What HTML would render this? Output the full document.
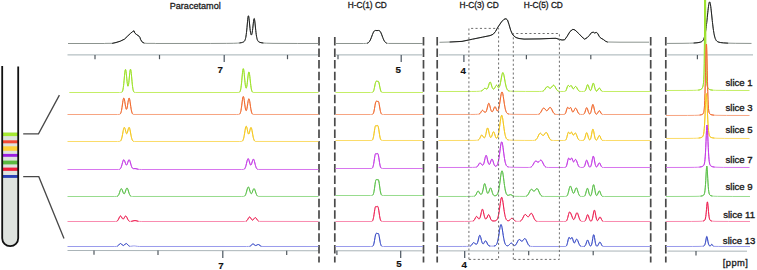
<!DOCTYPE html>
<html><head><meta charset="utf-8"><title>NMR slices</title>
<style>
html,body{margin:0;padding:0;background:#fff;}
body{width:757px;height:270px;overflow:hidden;font-family:"Liberation Sans",sans-serif;}
svg{display:block;}
</style></head>
<body>
<svg width="757" height="270" viewBox="0 0 757 270">
<rect width="757" height="270" fill="#fff"/>
<path d="M2.2 132.5 L2.2 238.2 A8 8 0 0 0 18.2 238.2 L18.2 132.5 Z" fill="#dfe3df"/>
<rect x="2.2" y="132.6" width="16" height="3.5" fill="#a4e830"/>
<rect x="2.2" y="140.3" width="16" height="3.0" fill="#f24a34"/>
<rect x="2.2" y="146.3" width="16" height="4.5" fill="#ffd23a"/>
<rect x="2.2" y="153.9" width="16" height="2.9" fill="#9a1ee0"/>
<rect x="2.2" y="160.6" width="16" height="3.8" fill="#5cb840"/>
<rect x="2.2" y="167.6" width="16" height="3.3" fill="#f0203c"/>
<rect x="2.2" y="175.0" width="16" height="2.9" fill="#2a40b4"/>
<path d="M2.2 65.9 L2.2 238.2 A8 8 0 0 0 18.2 238.2 L18.2 66.6" fill="none" stroke="#111" stroke-width="1.8"/>
<path d="M23.2 133.8 L38.5 133.8 L59.4 95.1" fill="none" stroke="#484848" stroke-width="1.3"/>
<path d="M23.2 176.7 L38.8 176.7 L64.0 238.4" fill="none" stroke="#484848" stroke-width="1.3"/>
<line x1="67.5" y1="54.9" x2="318.0" y2="54.9" stroke="#a4b0b4" stroke-width="1"/>
<line x1="336.0" y1="54.9" x2="422.0" y2="54.9" stroke="#a4b0b4" stroke-width="1"/>
<line x1="439.0" y1="54.9" x2="650.0" y2="54.9" stroke="#a4b0b4" stroke-width="1"/>
<line x1="667.5" y1="54.9" x2="753.0" y2="54.9" stroke="#a4b0b4" stroke-width="1"/>
<line x1="67.5" y1="250.50" x2="318.0" y2="250.75" stroke="#aab4b8" stroke-width="1"/>
<line x1="336.0" y1="250.77" x2="422.0" y2="250.85" stroke="#aab4b8" stroke-width="1"/>
<line x1="439.0" y1="250.87" x2="650.0" y2="251.08" stroke="#aab4b8" stroke-width="1"/>
<line x1="667.5" y1="251.10" x2="747.0" y2="251.18" stroke="#aab4b8" stroke-width="1"/>
<line x1="95.0" y1="54.9" x2="95.0" y2="59.2" stroke="#50585e" stroke-width="1.2"/>
<line x1="159.5" y1="54.9" x2="159.5" y2="59.2" stroke="#50585e" stroke-width="1.2"/>
<line x1="224.2" y1="54.9" x2="224.2" y2="62.1" stroke="#4a5560" stroke-width="1.2"/>
<line x1="287.5" y1="54.9" x2="287.5" y2="59.2" stroke="#50585e" stroke-width="1.2"/>
<line x1="338.0" y1="54.9" x2="338.0" y2="59.2" stroke="#50585e" stroke-width="1.2"/>
<line x1="401.2" y1="54.9" x2="401.2" y2="62.1" stroke="#4a5560" stroke-width="1.2"/>
<line x1="463.9" y1="54.9" x2="463.9" y2="62.1" stroke="#4a5560" stroke-width="1.2"/>
<line x1="526.4" y1="54.9" x2="526.4" y2="59.2" stroke="#50585e" stroke-width="1.2"/>
<line x1="590.8" y1="54.9" x2="590.8" y2="59.2" stroke="#50585e" stroke-width="1.2"/>
<line x1="697.4" y1="54.9" x2="697.4" y2="59.2" stroke="#50585e" stroke-width="1.2"/>
<line x1="94.0" y1="250.5" x2="94.0" y2="254.8" stroke="#50585e" stroke-width="1.2"/>
<line x1="158.0" y1="250.6" x2="158.0" y2="254.9" stroke="#50585e" stroke-width="1.2"/>
<line x1="222.8" y1="250.7" x2="222.8" y2="257.9" stroke="#4a5560" stroke-width="1.2"/>
<line x1="286.7" y1="250.7" x2="286.7" y2="255.0" stroke="#50585e" stroke-width="1.2"/>
<line x1="336.9" y1="250.8" x2="336.9" y2="255.1" stroke="#50585e" stroke-width="1.2"/>
<line x1="400.7" y1="250.8" x2="400.7" y2="258.0" stroke="#4a5560" stroke-width="1.2"/>
<line x1="464.7" y1="250.9" x2="464.7" y2="258.1" stroke="#4a5560" stroke-width="1.2"/>
<line x1="528.7" y1="251.0" x2="528.7" y2="255.3" stroke="#50585e" stroke-width="1.2"/>
<line x1="593.2" y1="251.0" x2="593.2" y2="255.3" stroke="#50585e" stroke-width="1.2"/>
<line x1="696.0" y1="251.1" x2="696.0" y2="255.4" stroke="#50585e" stroke-width="1.2"/>
<line x1="319.0" y1="37" x2="319.0" y2="262.5" stroke="#4a4a4a" stroke-width="1.7" stroke-dasharray="8.5 3.05"/>
<line x1="334.8" y1="37" x2="334.8" y2="262.5" stroke="#4a4a4a" stroke-width="1.7" stroke-dasharray="8.5 3.05"/>
<line x1="423.5" y1="37" x2="423.5" y2="262.5" stroke="#4a4a4a" stroke-width="1.7" stroke-dasharray="8.5 3.05"/>
<line x1="437.2" y1="37" x2="437.2" y2="262.5" stroke="#4a4a4a" stroke-width="1.7" stroke-dasharray="8.5 3.05"/>
<line x1="650.7" y1="37" x2="650.7" y2="262.5" stroke="#4a4a4a" stroke-width="1.7" stroke-dasharray="8.5 3.05"/>
<line x1="665.8" y1="37" x2="665.8" y2="262.5" stroke="#4a4a4a" stroke-width="1.7" stroke-dasharray="8.5 3.05"/>
<path d="M68.00 43.50 L104.75 43.50 L105.00 43.40 L112.50 43.30 L116.00 42.52 L120.25 41.21 L124.50 39.14 L127.75 35.96 L130.50 33.39 L132.50 31.68 L134.00 30.79 L134.75 32.95 L135.00 33.26 L136.75 34.67 L139.00 36.19 L139.75 36.94 L140.00 37.65 L140.50 39.29 L142.00 41.83 L142.25 42.07 L144.00 42.99 L144.25 43.10 L147.00 43.39 L155.00 43.39 L155.25 43.49 L210.75 43.46 L226.75 43.39 L233.75 43.27 L237.50 43.11 L239.75 42.91 L241.25 42.68 L242.50 42.36 L243.25 42.05 L243.75 41.76 L244.25 41.33 L244.50 41.03 L244.75 40.63 L245.00 40.12 L245.25 39.45 L245.50 38.59 L245.75 37.48 L246.00 36.09 L246.25 34.39 L246.50 32.36 L246.75 30.02 L247.00 27.41 L247.50 21.83 L247.75 19.26 L248.00 17.21 L248.25 15.99 L248.50 15.81 L248.75 16.70 L249.00 18.46 L249.25 20.80 L249.75 26.00 L250.00 28.43 L250.25 30.55 L250.50 32.30 L250.75 33.62 L251.00 34.50 L251.25 34.92 L251.50 34.89 L251.75 34.41 L252.00 33.49 L252.25 32.16 L252.50 30.46 L252.75 28.44 L253.25 23.89 L253.50 21.70 L253.75 19.91 L254.00 18.80 L254.25 18.58 L254.50 19.33 L254.75 20.91 L255.00 23.06 L255.50 28.03 L255.75 30.44 L256.00 32.64 L256.25 34.57 L256.50 36.22 L256.75 37.57 L257.00 38.66 L257.25 39.52 L257.50 40.18 L257.75 40.70 L258.00 41.09 L258.50 41.63 L259.00 41.98 L259.75 42.31 L261.00 42.66 L263.00 42.96 L266.25 43.18 L273.00 43.36 L297.75 43.47 L318.50 43.48 M335.50 43.49 L363.50 43.49 L365.75 43.44 L366.75 43.33 L367.50 43.12 L368.25 42.74 L368.75 42.34 L369.25 41.78 L369.75 41.04 L370.25 40.12 L370.75 39.02 L371.25 37.76 L372.50 34.38 L373.00 33.15 L373.50 32.12 L374.00 31.33 L374.50 30.81 L375.00 30.54 L375.50 30.46 L377.00 30.58 L378.50 30.46 L379.00 30.51 L379.50 30.74 L380.00 31.21 L380.50 31.94 L381.00 32.93 L381.50 34.13 L382.75 37.50 L383.25 38.78 L383.75 39.92 L384.25 40.88 L384.75 41.65 L385.25 42.24 L385.75 42.67 L386.50 43.09 L387.25 43.31 L388.50 43.45 L423.00 43.50 M439.50 42.30 L450.00 42.00 L462.00 41.40 L472.40 39.20 L482.70 37.10 L490.00 35.60 L493.10 34.30 L495.50 31.50 L498.00 27.00 L501.40 22.00 L504.00 19.30 L506.00 18.70 L507.50 20.00 L509.00 24.50 L510.70 30.30 L512.80 35.00 L515.90 37.50 L519.00 38.50 L524.00 39.10 L540.00 38.90 L552.00 38.40 L556.00 38.30 L559.40 39.40 L562.00 40.00 L564.60 39.80 L567.00 36.50 L570.00 31.50 L572.90 29.30 L575.00 30.00 L578.90 33.70 L582.00 37.00 L584.60 39.20 L587.00 37.80 L589.20 35.60 L591.50 32.60 L593.30 32.20 L594.60 33.00 L596.30 32.40 L597.80 33.60 L599.30 36.60 L601.00 38.20 L603.50 39.60 L605.50 41.20 L607.40 42.00 L620.00 42.20 L649.00 42.20 M667.00 43.43 L682.00 43.34 L689.50 43.20 L694.00 43.01 L697.00 42.77 L699.00 42.48 L700.25 42.20 L701.25 41.85 L702.00 41.42 L702.50 40.99 L703.00 40.40 L703.50 39.56 L703.75 39.02 L704.00 38.38 L704.25 37.64 L704.50 36.77 L704.75 35.77 L705.00 34.63 L705.25 33.34 L705.50 31.88 L705.75 30.26 L706.00 28.48 L706.25 26.54 L706.50 24.46 L706.75 22.25 L707.25 17.56 L707.75 12.76 L708.00 10.44 L708.25 8.26 L708.50 6.30 L708.75 4.61 L709.00 3.29 L709.25 2.38 L709.50 1.94 L709.75 1.99 L710.00 2.53 L710.25 3.52 L710.50 4.93 L710.75 6.67 L711.00 8.69 L711.25 10.90 L712.25 20.41 L712.50 22.70 L712.75 24.88 L713.00 26.94 L713.25 28.85 L713.50 30.60 L713.75 32.18 L714.00 33.61 L714.25 34.87 L714.50 35.99 L714.75 36.96 L715.00 37.80 L715.25 38.52 L715.50 39.13 L715.75 39.65 L716.25 40.47 L716.75 41.04 L717.25 41.45 L718.00 41.87 L719.00 42.22 L720.75 42.58 L723.50 42.89 L727.75 43.14 L735.75 43.32 L751.50 43.43" stroke="#8c948f" stroke-width="1.0" fill="none" stroke-linejoin="round"/>
<path d="M112.50 43.30 L116.00 42.52 L120.25 41.21 L124.50 39.14 L127.75 35.96 L130.50 33.39 L132.50 31.68 L134.00 30.79 L134.75 32.95 L135.00 33.26 L136.75 34.67 L139.00 36.19 L139.75 36.94 L140.00 37.65 L140.50 39.29 L142.00 41.83 L142.25 42.07 L144.00 42.99 M239.75 42.91 L241.25 42.68 L242.50 42.36 L243.25 42.05 L243.75 41.76 L244.25 41.33 L244.50 41.03 L244.75 40.63 L245.00 40.12 L245.25 39.45 L245.50 38.59 L245.75 37.48 L246.00 36.09 L246.25 34.39 L246.50 32.36 L246.75 30.02 L247.00 27.41 L247.50 21.83 L247.75 19.26 L248.00 17.21 L248.25 15.99 L248.50 15.81 L248.75 16.70 L249.00 18.46 L249.25 20.80 L249.75 26.00 L250.00 28.43 L250.25 30.55 L250.50 32.30 L250.75 33.62 L251.00 34.50 L251.25 34.92 L251.50 34.89 L251.75 34.41 L252.00 33.49 L252.25 32.16 L252.50 30.46 L252.75 28.44 L253.25 23.89 L253.50 21.70 L253.75 19.91 L254.00 18.80 L254.25 18.58 L254.50 19.33 L254.75 20.91 L255.00 23.06 L255.50 28.03 L255.75 30.44 L256.00 32.64 L256.25 34.57 L256.50 36.22 L256.75 37.57 L257.00 38.66 L257.25 39.52 L257.50 40.18 L257.75 40.70 L258.00 41.09 L258.50 41.63 L259.00 41.98 L259.75 42.31 L261.00 42.66 L263.00 42.96 M367.50 43.12 L368.25 42.74 L368.75 42.34 L369.25 41.78 L369.75 41.04 L370.25 40.12 L370.75 39.02 L371.25 37.76 L372.50 34.38 L373.00 33.15 L373.50 32.12 L374.00 31.33 L374.50 30.81 L375.00 30.54 L375.50 30.46 L377.00 30.58 L378.50 30.46 L379.00 30.51 L379.50 30.74 L380.00 31.21 L380.50 31.94 L381.00 32.93 L381.50 34.13 L382.75 37.50 L383.25 38.78 L383.75 39.92 L384.25 40.88 L384.75 41.65 L385.25 42.24 L385.75 42.67 L386.50 43.09 M450.00 42.00 L462.00 41.40 L472.40 39.20 L482.70 37.10 L490.00 35.60 L493.10 34.30 L495.50 31.50 L498.00 27.00 L501.40 22.00 L504.00 19.30 L506.00 18.70 L507.50 20.00 L509.00 24.50 L510.70 30.30 L512.80 35.00 L515.90 37.50 L519.00 38.50 L524.00 39.10 L540.00 38.90 L552.00 38.40 L556.00 38.30 L559.40 39.40 L562.00 40.00 L564.60 39.80 L567.00 36.50 L570.00 31.50 L572.90 29.30 L575.00 30.00 L578.90 33.70 L582.00 37.00 L584.60 39.20 L587.00 37.80 L589.20 35.60 L591.50 32.60 L593.30 32.20 L594.60 33.00 L596.30 32.40 L597.80 33.60 L599.30 36.60 L601.00 38.20 L603.50 39.60 L605.50 41.20 L607.40 42.00 M694.00 43.01 L697.00 42.77 L699.00 42.48 L700.25 42.20 L701.25 41.85 L702.00 41.42 L702.50 40.99 L703.00 40.40 L703.50 39.56 L703.75 39.02 L704.00 38.38 L704.25 37.64 L704.50 36.77 L704.75 35.77 L705.00 34.63 L705.25 33.34 L705.50 31.88 L705.75 30.26 L706.00 28.48 L706.25 26.54 L706.50 24.46 L706.75 22.25 L707.25 17.56 L707.75 12.76 L708.00 10.44 L708.25 8.26 L708.50 6.30 L708.75 4.61 L709.00 3.29 L709.25 2.38 L709.50 1.94 L709.75 1.99 L710.00 2.53 L710.25 3.52 L710.50 4.93 L710.75 6.67 L711.00 8.69 L711.25 10.90 L712.25 20.41 L712.50 22.70 L712.75 24.88 L713.00 26.94 L713.25 28.85 L713.50 30.60 L713.75 32.18 L714.00 33.61 L714.25 34.87 L714.50 35.99 L714.75 36.96 L715.00 37.80 L715.25 38.52 L715.50 39.13 L715.75 39.65 L716.25 40.47 L716.75 41.04 L717.25 41.45 L718.00 41.87 L719.00 42.22 L720.75 42.58 L723.50 42.89 L727.75 43.14" stroke="#222222" stroke-width="1.0" fill="none" stroke-linejoin="round" stroke-linecap="round"/>
<path d="M69.30 92.50 L119.55 92.50 L120.80 92.48 L121.30 92.42 L121.80 92.21 L122.05 91.99 L122.30 91.63 L122.55 91.08 L122.80 90.27 L123.05 89.13 L123.30 87.61 L123.55 85.69 L123.80 83.38 L124.05 80.76 L124.55 75.27 L124.80 72.84 L125.05 70.94 L125.30 69.79 L125.55 69.51 L125.80 70.13 L126.05 71.58 L126.30 73.68 L126.55 76.18 L126.80 78.82 L127.05 81.32 L127.30 83.47 L127.55 85.07 L127.80 86.02 L128.05 86.23 L128.30 85.70 L128.55 84.46 L128.80 82.59 L129.05 80.25 L129.55 75.00 L129.80 72.60 L130.05 70.72 L130.30 69.58 L130.55 69.31 L130.80 69.96 L131.05 71.44 L131.30 73.60 L131.55 76.20 L132.05 81.74 L132.30 84.27 L132.55 86.45 L132.80 88.23 L133.05 89.60 L133.30 90.61 L133.55 91.32 L133.80 91.79 L134.05 92.09 L134.55 92.38 L135.30 92.49 L237.05 92.50 L238.55 92.47 L239.05 92.39 L239.55 92.13 L239.80 91.86 L240.05 91.45 L240.30 90.84 L240.55 89.96 L240.80 88.75 L241.05 87.18 L241.30 85.21 L241.55 82.88 L241.80 80.27 L242.30 74.79 L242.55 72.35 L242.80 70.40 L243.05 69.13 L243.30 68.70 L243.55 69.13 L243.80 70.39 L244.05 72.33 L244.30 74.76 L244.80 80.13 L245.05 82.63 L245.30 84.77 L245.55 86.44 L245.80 87.56 L246.05 88.11 L246.30 88.07 L246.55 87.45 L246.80 86.30 L247.05 84.68 L247.30 82.68 L247.80 78.11 L248.05 75.91 L248.30 74.06 L248.55 72.72 L248.80 72.06 L249.05 72.13 L249.30 72.95 L249.55 74.41 L249.80 76.37 L250.05 78.64 L250.55 83.34 L250.80 85.45 L251.05 87.28 L251.30 88.77 L251.55 89.93 L251.80 90.80 L252.05 91.41 L252.30 91.83 L252.55 92.10 L253.05 92.37 L253.80 92.48 L318.55 92.50 M335.50 92.50 L370.50 92.50 L371.75 92.47 L372.25 92.40 L372.75 92.18 L373.00 91.96 L373.25 91.62 L373.50 91.14 L373.75 90.49 L374.00 89.63 L374.25 88.59 L374.50 87.40 L375.00 84.81 L375.25 83.61 L375.50 82.60 L375.75 81.85 L376.00 81.39 L376.25 81.19 L376.50 81.18 L377.00 81.35 L377.50 81.32 L378.00 81.17 L378.25 81.24 L378.50 81.54 L378.75 82.12 L379.00 82.97 L379.25 84.07 L380.00 87.89 L380.25 89.03 L380.50 90.00 L380.75 90.77 L381.00 91.36 L381.25 91.77 L381.50 92.06 L382.00 92.36 L382.75 92.48 L423.00 92.50 M438.50 91.50 L471.75 91.48 L476.50 91.42 L479.25 91.28 L480.75 91.09 L481.50 90.91 L482.00 90.69 L482.50 90.35 L483.25 89.59 L484.00 88.77 L484.50 88.40 L485.00 88.30 L485.50 88.46 L486.25 88.87 L486.75 88.99 L487.00 88.93 L487.25 88.76 L487.50 88.48 L487.75 88.06 L488.00 87.50 L488.25 86.81 L488.75 85.15 L489.25 83.45 L489.50 82.76 L489.75 82.26 L490.00 82.01 L490.25 82.03 L490.50 82.33 L490.75 82.86 L491.00 83.58 L491.75 86.15 L492.00 86.93 L492.25 87.61 L492.50 88.16 L492.75 88.58 L493.00 88.88 L493.25 89.06 L493.50 89.12 L493.75 89.09 L494.00 88.94 L494.25 88.70 L494.50 88.36 L495.00 87.45 L495.50 86.41 L495.75 85.94 L496.00 85.57 L496.25 85.33 L496.50 85.25 L496.75 85.33 L497.00 85.57 L497.50 86.35 L498.00 87.19 L498.25 87.50 L498.50 87.67 L498.75 87.68 L499.00 87.50 L499.25 87.14 L499.50 86.58 L499.75 85.84 L500.00 84.92 L500.25 83.84 L500.50 82.63 L501.00 79.93 L501.50 77.14 L501.75 75.84 L502.00 74.68 L502.25 73.73 L502.50 73.05 L502.75 72.68 L503.00 72.66 L503.25 72.98 L503.50 73.62 L503.75 74.54 L504.00 75.68 L504.25 76.98 L505.00 81.24 L505.25 82.62 L505.50 83.91 L505.75 85.09 L506.00 86.15 L506.25 87.08 L506.50 87.88 L506.75 88.56 L507.00 89.12 L507.25 89.57 L507.75 90.23 L508.25 90.63 L509.00 90.96 L510.25 91.17 L513.75 91.34 L525.50 91.46 L539.75 91.48 L541.50 91.42 L542.25 91.31 L543.00 91.06 L543.50 90.77 L544.00 90.36 L544.50 89.81 L546.00 87.73 L546.50 87.14 L547.00 86.76 L547.50 86.64 L548.00 86.78 L548.50 87.12 L549.25 87.78 L549.75 88.11 L550.25 88.23 L550.75 88.06 L551.25 87.63 L552.50 85.98 L553.00 85.47 L553.25 85.32 L553.50 85.25 L553.75 85.28 L554.00 85.39 L554.50 85.88 L555.00 86.64 L556.25 88.91 L556.75 89.70 L557.25 90.32 L557.75 90.77 L558.25 91.08 L559.00 91.33 L560.25 91.47 L563.75 91.49 L564.50 91.45 L565.00 91.34 L565.50 91.04 L565.75 90.76 L566.00 90.38 L566.25 89.88 L566.50 89.25 L567.25 86.98 L567.50 86.30 L567.75 85.78 L568.00 85.47 L568.25 85.38 L568.50 85.50 L569.25 86.35 L569.50 86.51 L569.75 86.52 L570.00 86.37 L570.50 85.82 L570.75 85.59 L571.00 85.49 L571.25 85.58 L571.50 85.87 L571.75 86.32 L572.50 88.01 L572.75 88.43 L573.00 88.70 L573.25 88.80 L573.50 88.74 L573.75 88.53 L574.25 87.86 L574.75 87.12 L575.00 86.82 L575.25 86.60 L575.50 86.50 L575.75 86.52 L576.00 86.65 L576.25 86.89 L576.75 87.63 L577.75 89.47 L578.25 90.23 L578.75 90.78 L579.25 91.12 L580.00 91.38 L581.25 91.49 L583.50 91.48 L584.25 91.39 L584.75 91.16 L585.00 90.95 L585.25 90.65 L585.50 90.23 L585.75 89.68 L586.00 89.00 L586.75 86.53 L587.00 85.76 L587.25 85.16 L587.50 84.79 L587.75 84.70 L588.00 84.90 L588.25 85.37 L588.50 86.05 L589.25 88.52 L589.50 89.23 L589.75 89.81 L590.00 90.22 L590.25 90.46 L590.50 90.50 L590.75 90.36 L591.00 90.02 L591.25 89.48 L591.50 88.76 L591.75 87.87 L592.50 84.85 L592.75 84.02 L593.00 83.45 L593.25 83.20 L593.50 83.31 L593.75 83.76 L594.00 84.49 L594.25 85.43 L594.75 87.49 L595.00 88.45 L595.25 89.27 L595.50 89.93 L595.75 90.42 L596.00 90.76 L596.25 90.96 L596.50 91.04 L596.75 91.01 L597.00 90.88 L597.25 90.67 L597.75 90.01 L598.50 88.77 L598.75 88.43 L599.00 88.20 L599.25 88.10 L599.50 88.14 L599.75 88.33 L600.00 88.63 L601.00 90.25 L601.50 90.86 L602.00 91.23 L602.50 91.40 L603.75 91.49 L650.50 91.49 M666.00 90.49 L686.25 90.44 L693.25 90.36 L696.50 90.23 L698.50 90.04 L699.75 89.80 L700.50 89.55 L701.25 89.15 L701.75 88.72 L702.00 88.42 L702.25 88.04 L702.50 87.55 L702.75 86.88 L703.00 85.97 L703.25 84.67 L703.50 82.72 L703.75 79.59 L704.00 74.11 L704.25 63.20 L704.50 36.45 L704.75 -50.00 L705.00 -50.00 L705.25 -50.00 L705.50 -27.15 L705.75 44.26 L706.00 66.11 L706.25 75.49 L706.50 80.35 L706.75 83.18 L707.00 84.97 L707.25 86.18 L707.50 87.03 L707.75 87.66 L708.00 88.12 L708.50 88.77 L709.00 89.19 L709.75 89.58 L710.75 89.87 L712.50 90.13 L715.75 90.32 L725.25 90.45 L749.50 90.49" stroke="#c4ee66" stroke-width="1.0" fill="none" stroke-linejoin="round"/>
<path d="M122.05 91.99 L122.30 91.63 L122.55 91.08 L122.80 90.27 L123.05 89.13 L123.30 87.61 L123.55 85.69 L123.80 83.38 L124.05 80.76 L124.55 75.27 L124.80 72.84 L125.05 70.94 L125.30 69.79 L125.55 69.51 L125.80 70.13 L126.05 71.58 L126.30 73.68 L126.55 76.18 L126.80 78.82 L127.05 81.32 L127.30 83.47 L127.55 85.07 L127.80 86.02 L128.05 86.23 L128.30 85.70 L128.55 84.46 L128.80 82.59 L129.05 80.25 L129.55 75.00 L129.80 72.60 L130.05 70.72 L130.30 69.58 L130.55 69.31 L130.80 69.96 L131.05 71.44 L131.30 73.60 L131.55 76.20 L132.05 81.74 L132.30 84.27 L132.55 86.45 L132.80 88.23 L133.05 89.60 L133.30 90.61 L133.55 91.32 L133.80 91.79 L134.05 92.09 M239.55 92.13 L239.80 91.86 L240.05 91.45 L240.30 90.84 L240.55 89.96 L240.80 88.75 L241.05 87.18 L241.30 85.21 L241.55 82.88 L241.80 80.27 L242.30 74.79 L242.55 72.35 L242.80 70.40 L243.05 69.13 L243.30 68.70 L243.55 69.13 L243.80 70.39 L244.05 72.33 L244.30 74.76 L244.80 80.13 L245.05 82.63 L245.30 84.77 L245.55 86.44 L245.80 87.56 L246.05 88.11 L246.30 88.07 L246.55 87.45 L246.80 86.30 L247.05 84.68 L247.30 82.68 L247.80 78.11 L248.05 75.91 L248.30 74.06 L248.55 72.72 L248.80 72.06 L249.05 72.13 L249.30 72.95 L249.55 74.41 L249.80 76.37 L250.05 78.64 L250.55 83.34 L250.80 85.45 L251.05 87.28 L251.30 88.77 L251.55 89.93 L251.80 90.80 L252.05 91.41 L252.30 91.83 L252.55 92.10 M373.00 91.96 L373.25 91.62 L373.50 91.14 L373.75 90.49 L374.00 89.63 L374.25 88.59 L374.50 87.40 L375.00 84.81 L375.25 83.61 L375.50 82.60 L375.75 81.85 L376.00 81.39 L376.25 81.19 L376.50 81.18 L377.00 81.35 L377.50 81.32 L378.00 81.17 L378.25 81.24 L378.50 81.54 L378.75 82.12 L379.00 82.97 L379.25 84.07 L380.00 87.89 L380.25 89.03 L380.50 90.00 L380.75 90.77 L381.00 91.36 L381.25 91.77 L381.50 92.06 M481.50 90.91 L482.00 90.69 L482.50 90.35 L483.25 89.59 L484.00 88.77 L484.50 88.40 L485.00 88.30 L485.50 88.46 L486.25 88.87 L486.75 88.99 L487.00 88.93 L487.25 88.76 L487.50 88.48 L487.75 88.06 L488.00 87.50 L488.25 86.81 L488.75 85.15 L489.25 83.45 L489.50 82.76 L489.75 82.26 L490.00 82.01 L490.25 82.03 L490.50 82.33 L490.75 82.86 L491.00 83.58 L491.75 86.15 L492.00 86.93 L492.25 87.61 L492.50 88.16 L492.75 88.58 L493.00 88.88 L493.25 89.06 L493.50 89.12 L493.75 89.09 L494.00 88.94 L494.25 88.70 L494.50 88.36 L495.00 87.45 L495.50 86.41 L495.75 85.94 L496.00 85.57 L496.25 85.33 L496.50 85.25 L496.75 85.33 L497.00 85.57 L497.50 86.35 L498.00 87.19 L498.25 87.50 L498.50 87.67 L498.75 87.68 L499.00 87.50 L499.25 87.14 L499.50 86.58 L499.75 85.84 L500.00 84.92 L500.25 83.84 L500.50 82.63 L501.00 79.93 L501.50 77.14 L501.75 75.84 L502.00 74.68 L502.25 73.73 L502.50 73.05 L502.75 72.68 L503.00 72.66 L503.25 72.98 L503.50 73.62 L503.75 74.54 L504.00 75.68 L504.25 76.98 L505.00 81.24 L505.25 82.62 L505.50 83.91 L505.75 85.09 L506.00 86.15 L506.25 87.08 L506.50 87.88 L506.75 88.56 L507.00 89.12 L507.25 89.57 L507.75 90.23 L508.25 90.63 L509.00 90.96 M543.00 91.06 L543.50 90.77 L544.00 90.36 L544.50 89.81 L546.00 87.73 L546.50 87.14 L547.00 86.76 L547.50 86.64 L548.00 86.78 L548.50 87.12 L549.25 87.78 L549.75 88.11 L550.25 88.23 L550.75 88.06 L551.25 87.63 L552.50 85.98 L553.00 85.47 L553.25 85.32 L553.50 85.25 L553.75 85.28 L554.00 85.39 L554.50 85.88 L555.00 86.64 L556.25 88.91 L556.75 89.70 L557.25 90.32 L557.75 90.77 L558.25 91.08 M565.50 91.04 L565.75 90.76 L566.00 90.38 L566.25 89.88 L566.50 89.25 L567.25 86.98 L567.50 86.30 L567.75 85.78 L568.00 85.47 L568.25 85.38 L568.50 85.50 L569.25 86.35 L569.50 86.51 L569.75 86.52 L570.00 86.37 L570.50 85.82 L570.75 85.59 L571.00 85.49 L571.25 85.58 L571.50 85.87 L571.75 86.32 L572.50 88.01 L572.75 88.43 L573.00 88.70 L573.25 88.80 L573.50 88.74 L573.75 88.53 L574.25 87.86 L574.75 87.12 L575.00 86.82 L575.25 86.60 L575.50 86.50 L575.75 86.52 L576.00 86.65 L576.25 86.89 L576.75 87.63 L577.75 89.47 L578.25 90.23 L578.75 90.78 L579.25 91.12 M585.00 90.95 L585.25 90.65 L585.50 90.23 L585.75 89.68 L586.00 89.00 L586.75 86.53 L587.00 85.76 L587.25 85.16 L587.50 84.79 L587.75 84.70 L588.00 84.90 L588.25 85.37 L588.50 86.05 L589.25 88.52 L589.50 89.23 L589.75 89.81 L590.00 90.22 L590.25 90.46 L590.50 90.50 L590.75 90.36 L591.00 90.02 L591.25 89.48 L591.50 88.76 L591.75 87.87 L592.50 84.85 L592.75 84.02 L593.00 83.45 L593.25 83.20 L593.50 83.31 L593.75 83.76 L594.00 84.49 L594.25 85.43 L594.75 87.49 L595.00 88.45 L595.25 89.27 L595.50 89.93 L595.75 90.42 L596.00 90.76 L596.25 90.96 M596.75 91.01 L597.00 90.88 L597.25 90.67 L597.75 90.01 L598.50 88.77 L598.75 88.43 L599.00 88.20 L599.25 88.10 L599.50 88.14 L599.75 88.33 L600.00 88.63 L601.00 90.25 L601.50 90.86 L602.00 91.23 M698.50 90.04 L699.75 89.80 L700.50 89.55 L701.25 89.15 L701.75 88.72 L702.00 88.42 L702.25 88.04 L702.50 87.55 L702.75 86.88 L703.00 85.97 L703.25 84.67 L703.50 82.72 L703.75 79.59 L704.00 74.11 L704.25 63.20 L704.50 36.45 L704.75 -50.00 L705.00 -50.00 L705.25 -50.00 L705.50 -27.15 L705.75 44.26 L706.00 66.11 L706.25 75.49 L706.50 80.35 L706.75 83.18 L707.00 84.97 L707.25 86.18 L707.50 87.03 L707.75 87.66 L708.00 88.12 L708.50 88.77 L709.00 89.19 L709.75 89.58 L710.75 89.87 L712.50 90.13" stroke="#9be22a" stroke-width="1.0" fill="none" stroke-linejoin="round" stroke-linecap="round"/>
<path d="M67.50 114.50 L117.50 114.50 L119.00 114.46 L119.50 114.37 L120.00 114.13 L120.25 113.90 L120.50 113.56 L120.75 113.07 L121.00 112.41 L121.25 111.53 L121.50 110.41 L121.75 109.06 L122.00 107.49 L122.75 102.22 L123.00 100.64 L123.25 99.35 L123.50 98.48 L123.75 98.10 L124.00 98.25 L124.25 98.91 L124.50 100.02 L124.75 101.45 L125.25 104.72 L125.50 106.27 L125.75 107.60 L126.00 108.58 L126.25 109.16 L126.50 109.30 L126.75 108.98 L127.00 108.23 L127.25 107.10 L127.50 105.67 L128.00 102.40 L128.25 100.84 L128.50 99.53 L128.75 98.59 L129.00 98.13 L129.25 98.19 L129.50 98.77 L129.75 99.82 L130.00 101.24 L130.25 102.91 L130.75 106.48 L131.00 108.14 L131.25 109.63 L131.50 110.89 L131.75 111.90 L132.00 112.70 L132.25 113.29 L132.50 113.71 L132.75 114.00 L133.25 114.32 L134.00 114.47 L236.75 114.50 L238.50 114.47 L239.00 114.39 L239.50 114.16 L239.75 113.93 L240.00 113.59 L240.25 113.10 L240.50 112.40 L240.75 111.48 L241.00 110.28 L241.25 108.82 L241.50 107.10 L241.75 105.19 L242.25 101.20 L242.50 99.40 L242.75 97.93 L243.00 96.94 L243.25 96.51 L243.50 96.69 L243.75 97.46 L244.00 98.74 L244.25 100.41 L244.75 104.25 L245.00 106.11 L245.25 107.75 L245.50 109.07 L245.75 110.00 L246.00 110.50 L246.25 110.56 L246.50 110.18 L246.75 109.40 L247.00 108.25 L247.25 106.81 L247.75 103.50 L248.00 101.89 L248.25 100.50 L248.50 99.46 L248.75 98.89 L249.00 98.84 L249.25 99.32 L249.50 100.28 L249.75 101.62 L250.00 103.23 L250.50 106.72 L250.75 108.36 L251.00 109.82 L251.25 111.05 L251.50 112.04 L251.75 112.81 L252.00 113.38 L252.25 113.78 L252.50 114.05 L253.00 114.34 L253.75 114.47 L318.50 114.50 M335.50 114.50 L370.50 114.50 L371.75 114.47 L372.25 114.38 L372.75 114.12 L373.00 113.87 L373.25 113.47 L373.50 112.91 L373.75 112.14 L374.00 111.14 L374.25 109.92 L374.50 108.52 L375.00 105.49 L375.25 104.08 L375.50 102.90 L375.75 102.02 L376.00 101.48 L376.25 101.25 L376.50 101.23 L377.00 101.43 L377.25 101.46 L378.00 101.22 L378.25 101.31 L378.50 101.66 L378.75 102.33 L379.00 103.34 L379.25 104.62 L380.00 109.10 L380.25 110.44 L380.50 111.57 L380.75 112.47 L381.00 113.16 L381.25 113.65 L381.50 113.98 L381.75 114.20 L382.25 114.41 L383.50 114.50 L423.00 114.50 M438.50 114.49 L470.50 114.47 L475.25 114.42 L477.50 114.30 L478.50 114.18 L479.25 113.96 L479.75 113.66 L480.25 113.17 L480.75 112.47 L481.50 111.24 L482.00 110.60 L482.25 110.41 L482.50 110.35 L482.75 110.39 L483.00 110.54 L483.50 111.05 L484.25 111.92 L484.75 112.29 L485.00 112.36 L485.25 112.36 L485.50 112.26 L485.75 112.06 L486.00 111.74 L486.25 111.28 L486.50 110.68 L486.75 109.93 L487.00 109.03 L487.75 105.87 L488.00 104.88 L488.25 104.07 L488.50 103.52 L488.75 103.28 L489.00 103.38 L489.25 103.80 L489.50 104.50 L489.75 105.42 L490.50 108.56 L490.75 109.49 L491.00 110.27 L491.25 110.90 L491.50 111.35 L491.75 111.64 L492.00 111.77 L492.25 111.74 L492.50 111.57 L492.75 111.26 L493.00 110.82 L493.25 110.26 L494.00 108.24 L494.25 107.62 L494.50 107.13 L494.75 106.82 L495.00 106.73 L495.25 106.86 L495.50 107.20 L495.75 107.71 L496.50 109.66 L496.75 110.23 L497.00 110.67 L497.25 110.94 L497.50 111.02 L497.75 110.90 L498.00 110.58 L498.25 110.05 L498.50 109.32 L498.75 108.40 L499.00 107.29 L499.25 106.01 L499.50 104.57 L499.75 103.01 L500.50 97.95 L500.75 96.33 L501.00 94.86 L501.25 93.60 L501.50 92.64 L501.75 92.04 L502.00 91.84 L502.25 92.06 L502.50 92.67 L502.75 93.65 L503.00 94.92 L503.25 96.42 L503.75 99.77 L504.25 103.18 L504.50 104.78 L504.75 106.25 L505.00 107.59 L505.25 108.77 L505.50 109.79 L505.75 110.66 L506.00 111.39 L506.25 111.98 L506.50 112.46 L506.75 112.84 L507.25 113.38 L507.75 113.70 L508.50 113.96 L510.00 114.17 L514.00 114.35 L527.00 114.46 L536.00 114.48 L537.50 114.43 L538.25 114.33 L539.00 114.08 L539.50 113.78 L540.00 113.33 L540.50 112.70 L541.00 111.91 L542.25 109.56 L542.75 108.76 L543.25 108.23 L543.50 108.09 L543.75 108.04 L544.00 108.09 L544.50 108.44 L545.00 109.03 L545.75 110.04 L546.25 110.54 L546.50 110.68 L546.75 110.74 L547.00 110.71 L547.25 110.59 L547.75 110.10 L548.25 109.38 L549.00 108.19 L549.50 107.61 L549.75 107.43 L550.00 107.35 L550.25 107.38 L550.50 107.51 L550.75 107.74 L551.25 108.47 L551.75 109.44 L552.50 111.03 L553.00 112.01 L553.50 112.82 L554.00 113.43 L554.50 113.86 L555.00 114.14 L555.75 114.36 L557.00 114.47 L563.00 114.49 L564.00 114.44 L564.50 114.31 L565.00 113.96 L565.25 113.64 L565.50 113.19 L565.75 112.60 L566.00 111.87 L566.75 109.22 L567.00 108.42 L567.25 107.81 L567.50 107.44 L567.75 107.34 L568.00 107.48 L568.75 108.47 L569.00 108.66 L569.25 108.66 L569.50 108.49 L570.00 107.85 L570.25 107.59 L570.50 107.49 L570.75 107.63 L571.00 108.00 L571.25 108.58 L572.00 110.80 L572.25 111.39 L572.50 111.82 L572.75 112.04 L573.00 112.05 L573.25 111.88 L573.50 111.55 L574.00 110.59 L574.50 109.50 L574.75 109.01 L575.00 108.62 L575.25 108.34 L575.50 108.21 L575.75 108.22 L576.00 108.39 L576.25 108.69 L576.50 109.12 L577.00 110.20 L577.75 111.94 L578.25 112.90 L578.75 113.59 L579.25 114.03 L579.75 114.28 L580.50 114.44 L582.25 114.49 L583.00 114.44 L583.50 114.30 L584.00 113.95 L584.25 113.65 L584.50 113.23 L584.75 112.68 L585.00 112.00 L585.75 109.52 L586.00 108.76 L586.25 108.16 L586.50 107.79 L586.75 107.70 L587.00 107.90 L587.25 108.37 L587.50 109.05 L588.25 111.54 L588.50 112.28 L588.75 112.89 L589.00 113.36 L589.25 113.69 L589.50 113.87 L589.75 113.91 L590.00 113.80 L590.25 113.54 L590.50 113.10 L590.75 112.46 L591.00 111.63 L591.25 110.60 L592.00 106.95 L592.25 105.86 L592.50 105.04 L592.75 104.57 L593.00 104.53 L593.25 104.91 L593.50 105.67 L593.75 106.71 L594.50 110.38 L594.75 111.45 L595.00 112.33 L595.25 113.01 L595.50 113.51 L595.75 113.85 L596.00 114.05 L596.25 114.14 L596.50 114.13 L596.75 114.04 L597.00 113.86 L597.25 113.60 L597.75 112.84 L598.50 111.45 L598.75 111.07 L599.00 110.81 L599.25 110.70 L599.50 110.75 L599.75 110.95 L600.00 111.29 L601.00 113.10 L601.50 113.79 L602.00 114.19 L602.50 114.39 L603.50 114.49 L650.50 114.49 M666.00 115.49 L687.50 115.44 L694.50 115.36 L698.00 115.22 L700.00 115.03 L701.25 114.78 L702.00 114.53 L702.50 114.28 L703.00 113.89 L703.25 113.59 L703.50 113.14 L703.75 112.40 L704.00 111.16 L704.25 109.08 L704.50 105.71 L704.75 100.56 L705.00 93.27 L705.25 83.80 L705.50 72.67 L705.75 61.08 L706.00 50.95 L706.25 44.62 L706.50 44.00 L706.75 49.30 L707.00 58.87 L707.25 70.34 L707.50 81.68 L707.75 91.54 L708.00 99.28 L708.25 104.83 L708.50 108.52 L708.75 110.83 L709.00 112.21 L709.25 113.02 L709.50 113.52 L709.75 113.84 L710.25 114.25 L711.00 114.61 L712.00 114.89 L713.75 115.14 L717.00 115.32 L726.50 115.45 L749.50 115.49" stroke="#f7a582" stroke-width="1.0" fill="none" stroke-linejoin="round"/>
<path d="M120.25 113.90 L120.50 113.56 L120.75 113.07 L121.00 112.41 L121.25 111.53 L121.50 110.41 L121.75 109.06 L122.00 107.49 L122.75 102.22 L123.00 100.64 L123.25 99.35 L123.50 98.48 L123.75 98.10 L124.00 98.25 L124.25 98.91 L124.50 100.02 L124.75 101.45 L125.25 104.72 L125.50 106.27 L125.75 107.60 L126.00 108.58 L126.25 109.16 L126.50 109.30 L126.75 108.98 L127.00 108.23 L127.25 107.10 L127.50 105.67 L128.00 102.40 L128.25 100.84 L128.50 99.53 L128.75 98.59 L129.00 98.13 L129.25 98.19 L129.50 98.77 L129.75 99.82 L130.00 101.24 L130.25 102.91 L130.75 106.48 L131.00 108.14 L131.25 109.63 L131.50 110.89 L131.75 111.90 L132.00 112.70 L132.25 113.29 L132.50 113.71 L132.75 114.00 M239.75 113.93 L240.00 113.59 L240.25 113.10 L240.50 112.40 L240.75 111.48 L241.00 110.28 L241.25 108.82 L241.50 107.10 L241.75 105.19 L242.25 101.20 L242.50 99.40 L242.75 97.93 L243.00 96.94 L243.25 96.51 L243.50 96.69 L243.75 97.46 L244.00 98.74 L244.25 100.41 L244.75 104.25 L245.00 106.11 L245.25 107.75 L245.50 109.07 L245.75 110.00 L246.00 110.50 L246.25 110.56 L246.50 110.18 L246.75 109.40 L247.00 108.25 L247.25 106.81 L247.75 103.50 L248.00 101.89 L248.25 100.50 L248.50 99.46 L248.75 98.89 L249.00 98.84 L249.25 99.32 L249.50 100.28 L249.75 101.62 L250.00 103.23 L250.50 106.72 L250.75 108.36 L251.00 109.82 L251.25 111.05 L251.50 112.04 L251.75 112.81 L252.00 113.38 L252.25 113.78 L252.50 114.05 M372.75 114.12 L373.00 113.87 L373.25 113.47 L373.50 112.91 L373.75 112.14 L374.00 111.14 L374.25 109.92 L374.50 108.52 L375.00 105.49 L375.25 104.08 L375.50 102.90 L375.75 102.02 L376.00 101.48 L376.25 101.25 L376.50 101.23 L377.00 101.43 L377.25 101.46 L378.00 101.22 L378.25 101.31 L378.50 101.66 L378.75 102.33 L379.00 103.34 L379.25 104.62 L380.00 109.10 L380.25 110.44 L380.50 111.57 L380.75 112.47 L381.00 113.16 L381.25 113.65 L381.50 113.98 M479.25 113.96 L479.75 113.66 L480.25 113.17 L480.75 112.47 L481.50 111.24 L482.00 110.60 L482.25 110.41 L482.50 110.35 L482.75 110.39 L483.00 110.54 L483.50 111.05 L484.25 111.92 L484.75 112.29 L485.00 112.36 L485.25 112.36 L485.50 112.26 L485.75 112.06 L486.00 111.74 L486.25 111.28 L486.50 110.68 L486.75 109.93 L487.00 109.03 L487.75 105.87 L488.00 104.88 L488.25 104.07 L488.50 103.52 L488.75 103.28 L489.00 103.38 L489.25 103.80 L489.50 104.50 L489.75 105.42 L490.50 108.56 L490.75 109.49 L491.00 110.27 L491.25 110.90 L491.50 111.35 L491.75 111.64 L492.00 111.77 L492.25 111.74 L492.50 111.57 L492.75 111.26 L493.00 110.82 L493.25 110.26 L494.00 108.24 L494.25 107.62 L494.50 107.13 L494.75 106.82 L495.00 106.73 L495.25 106.86 L495.50 107.20 L495.75 107.71 L496.50 109.66 L496.75 110.23 L497.00 110.67 L497.25 110.94 L497.50 111.02 L497.75 110.90 L498.00 110.58 L498.25 110.05 L498.50 109.32 L498.75 108.40 L499.00 107.29 L499.25 106.01 L499.50 104.57 L499.75 103.01 L500.50 97.95 L500.75 96.33 L501.00 94.86 L501.25 93.60 L501.50 92.64 L501.75 92.04 L502.00 91.84 L502.25 92.06 L502.50 92.67 L502.75 93.65 L503.00 94.92 L503.25 96.42 L503.75 99.77 L504.25 103.18 L504.50 104.78 L504.75 106.25 L505.00 107.59 L505.25 108.77 L505.50 109.79 L505.75 110.66 L506.00 111.39 L506.25 111.98 L506.50 112.46 L506.75 112.84 L507.25 113.38 L507.75 113.70 L508.50 113.96 M539.00 114.08 L539.50 113.78 L540.00 113.33 L540.50 112.70 L541.00 111.91 L542.25 109.56 L542.75 108.76 L543.25 108.23 L543.50 108.09 L543.75 108.04 L544.00 108.09 L544.50 108.44 L545.00 109.03 L545.75 110.04 L546.25 110.54 L546.50 110.68 L546.75 110.74 L547.00 110.71 L547.25 110.59 L547.75 110.10 L548.25 109.38 L549.00 108.19 L549.50 107.61 L549.75 107.43 L550.00 107.35 L550.25 107.38 L550.50 107.51 L550.75 107.74 L551.25 108.47 L551.75 109.44 L552.50 111.03 L553.00 112.01 L553.50 112.82 L554.00 113.43 L554.50 113.86 L555.00 114.14 M565.00 113.96 L565.25 113.64 L565.50 113.19 L565.75 112.60 L566.00 111.87 L566.75 109.22 L567.00 108.42 L567.25 107.81 L567.50 107.44 L567.75 107.34 L568.00 107.48 L568.75 108.47 L569.00 108.66 L569.25 108.66 L569.50 108.49 L570.00 107.85 L570.25 107.59 L570.50 107.49 L570.75 107.63 L571.00 108.00 L571.25 108.58 L572.00 110.80 L572.25 111.39 L572.50 111.82 L572.75 112.04 L573.00 112.05 L573.25 111.88 L573.50 111.55 L574.00 110.59 L574.50 109.50 L574.75 109.01 L575.00 108.62 L575.25 108.34 L575.50 108.21 L575.75 108.22 L576.00 108.39 L576.25 108.69 L576.50 109.12 L577.00 110.20 L577.75 111.94 L578.25 112.90 L578.75 113.59 L579.25 114.03 M584.00 113.95 L584.25 113.65 L584.50 113.23 L584.75 112.68 L585.00 112.00 L585.75 109.52 L586.00 108.76 L586.25 108.16 L586.50 107.79 L586.75 107.70 L587.00 107.90 L587.25 108.37 L587.50 109.05 L588.25 111.54 L588.50 112.28 L588.75 112.89 L589.00 113.36 L589.25 113.69 L589.50 113.87 L589.75 113.91 L590.00 113.80 L590.25 113.54 L590.50 113.10 L590.75 112.46 L591.00 111.63 L591.25 110.60 L592.00 106.95 L592.25 105.86 L592.50 105.04 L592.75 104.57 L593.00 104.53 L593.25 104.91 L593.50 105.67 L593.75 106.71 L594.50 110.38 L594.75 111.45 L595.00 112.33 L595.25 113.01 L595.50 113.51 L595.75 113.85 L596.00 114.05 M596.75 114.04 L597.00 113.86 L597.25 113.60 L597.75 112.84 L598.50 111.45 L598.75 111.07 L599.00 110.81 L599.25 110.70 L599.50 110.75 L599.75 110.95 L600.00 111.29 L601.00 113.10 L601.50 113.79 L602.00 114.19 M700.00 115.03 L701.25 114.78 L702.00 114.53 L702.50 114.28 L703.00 113.89 L703.25 113.59 L703.50 113.14 L703.75 112.40 L704.00 111.16 L704.25 109.08 L704.50 105.71 L704.75 100.56 L705.00 93.27 L705.25 83.80 L705.50 72.67 L705.75 61.08 L706.00 50.95 L706.25 44.62 L706.50 44.00 L706.75 49.30 L707.00 58.87 L707.25 70.34 L707.50 81.68 L707.75 91.54 L708.00 99.28 L708.25 104.83 L708.50 108.52 L708.75 110.83 L709.00 112.21 L709.25 113.02 L709.50 113.52 L709.75 113.84 L710.25 114.25 L711.00 114.61 L712.00 114.89 L713.75 115.14" stroke="#f26a2e" stroke-width="1.0" fill="none" stroke-linejoin="round" stroke-linecap="round"/>
<path d="M67.50 141.50 L117.50 141.50 L119.00 141.47 L119.75 141.36 L120.25 141.13 L120.50 140.93 L120.75 140.65 L121.00 140.25 L121.25 139.73 L121.50 139.05 L121.75 138.20 L122.00 137.18 L122.25 136.00 L122.50 134.68 L123.00 131.88 L123.25 130.53 L123.50 129.34 L123.75 128.39 L124.00 127.73 L124.25 127.43 L124.50 127.50 L124.75 127.91 L125.00 128.61 L125.25 129.52 L125.75 131.57 L126.00 132.48 L126.25 133.18 L126.50 133.61 L126.75 133.71 L127.00 133.47 L127.25 132.93 L127.50 132.14 L128.25 129.14 L128.50 128.30 L128.75 127.70 L129.00 127.43 L129.25 127.51 L129.50 127.95 L129.75 128.74 L130.00 129.80 L130.25 131.06 L131.00 135.22 L131.25 136.49 L131.50 137.61 L131.75 138.56 L132.00 139.34 L132.25 139.96 L132.50 140.43 L132.75 140.77 L133.25 141.19 L133.75 141.39 L134.75 141.49 L239.25 141.50 L241.00 141.48 L241.75 141.36 L242.25 141.13 L242.50 140.91 L242.75 140.60 L243.00 140.17 L243.25 139.58 L243.50 138.81 L243.75 137.85 L244.00 136.69 L244.25 135.35 L244.50 133.85 L245.00 130.70 L245.25 129.23 L245.50 127.96 L245.75 126.99 L246.00 126.41 L246.25 126.24 L246.50 126.51 L246.75 127.16 L247.00 128.13 L247.25 129.31 L247.75 131.78 L248.00 132.82 L248.25 133.59 L248.50 134.01 L248.75 134.06 L249.00 133.74 L249.25 133.08 L249.50 132.16 L250.00 129.97 L250.25 128.94 L250.50 128.12 L250.75 127.60 L251.00 127.44 L251.25 127.67 L251.50 128.29 L251.75 129.24 L252.00 130.46 L252.75 134.74 L253.00 136.09 L253.25 137.30 L253.50 138.33 L253.75 139.18 L254.00 139.85 L254.25 140.36 L254.50 140.74 L254.75 141.01 L255.25 141.31 L256.00 141.46 L318.50 141.50 M335.50 140.50 L370.00 140.50 L371.25 140.46 L371.75 140.37 L372.25 140.08 L372.50 139.78 L372.75 139.34 L373.00 138.70 L373.25 137.83 L373.50 136.70 L373.75 135.32 L374.00 133.74 L374.50 130.31 L374.75 128.72 L375.00 127.38 L375.25 126.39 L375.50 125.78 L375.75 125.52 L376.00 125.50 L376.50 125.73 L376.75 125.76 L377.50 125.48 L377.75 125.59 L378.00 125.98 L378.25 126.74 L378.50 127.88 L378.75 129.33 L379.50 134.39 L379.75 135.90 L380.00 137.19 L380.25 138.21 L380.50 138.98 L380.75 139.54 L381.00 139.92 L381.25 140.16 L381.75 140.40 L382.75 140.49 L423.00 140.50 M438.50 140.49 L469.25 140.47 L474.00 140.42 L476.50 140.29 L477.75 140.12 L478.25 139.98 L478.75 139.70 L479.25 139.21 L479.75 138.44 L480.25 137.40 L480.75 136.29 L481.00 135.80 L481.25 135.40 L481.50 135.14 L481.75 135.03 L482.00 135.08 L482.25 135.28 L482.50 135.60 L483.25 136.86 L483.75 137.54 L484.00 137.73 L484.25 137.80 L484.50 137.73 L484.75 137.49 L485.00 137.08 L485.25 136.48 L485.50 135.69 L485.75 134.72 L486.00 133.60 L486.50 131.16 L486.75 130.02 L487.00 129.05 L487.25 128.35 L487.50 128.01 L487.75 128.04 L488.00 128.45 L488.25 129.20 L488.50 130.20 L489.25 133.77 L489.50 134.85 L489.75 135.76 L490.00 136.49 L490.25 137.00 L490.50 137.32 L490.75 137.43 L491.00 137.36 L491.25 137.10 L491.50 136.67 L491.75 136.09 L492.25 134.60 L492.75 133.04 L493.00 132.41 L493.25 131.97 L493.50 131.77 L493.75 131.83 L494.00 132.16 L494.25 132.71 L494.50 133.44 L495.25 135.96 L495.50 136.69 L495.75 137.30 L496.00 137.75 L496.25 138.05 L496.50 138.18 L496.75 138.16 L497.00 138.00 L497.25 137.68 L497.50 137.21 L497.75 136.58 L498.00 135.79 L498.25 134.82 L498.50 133.68 L498.75 132.35 L499.00 130.85 L499.25 129.20 L499.50 127.41 L500.25 121.74 L500.50 119.95 L500.75 118.34 L501.00 117.00 L501.25 116.00 L501.50 115.41 L501.75 115.27 L502.00 115.60 L502.25 116.37 L502.50 117.53 L502.75 119.00 L503.00 120.71 L503.75 126.39 L504.00 128.25 L504.25 130.01 L504.50 131.62 L504.75 133.08 L505.00 134.36 L505.25 135.46 L505.50 136.40 L505.75 137.17 L506.00 137.81 L506.25 138.32 L506.50 138.73 L507.00 139.30 L507.50 139.64 L508.25 139.91 L509.75 140.13 L513.50 140.32 L524.25 140.45 L532.50 140.47 L534.00 140.42 L534.75 140.30 L535.50 140.02 L536.00 139.68 L536.50 139.18 L537.00 138.48 L537.50 137.58 L538.75 134.94 L539.25 134.03 L539.50 133.68 L539.75 133.42 L540.00 133.25 L540.25 133.19 L540.50 133.22 L540.75 133.35 L541.25 133.84 L542.00 134.80 L542.50 135.32 L542.75 135.48 L543.00 135.56 L543.25 135.54 L543.50 135.42 L544.00 134.93 L545.00 133.40 L545.50 132.75 L545.75 132.53 L546.00 132.42 L546.25 132.41 L546.50 132.53 L546.75 132.75 L547.00 133.08 L547.50 134.00 L548.75 136.94 L549.25 137.99 L549.75 138.83 L550.25 139.46 L550.75 139.89 L551.25 140.16 L552.00 140.37 L553.50 140.48 L563.75 140.49 L564.75 140.44 L565.25 140.30 L565.50 140.16 L565.75 139.93 L566.00 139.59 L566.25 139.10 L566.50 138.45 L566.75 137.63 L567.00 136.67 L567.50 134.58 L567.75 133.62 L568.00 132.86 L568.25 132.38 L568.50 132.20 L568.75 132.31 L569.00 132.64 L569.50 133.45 L569.75 133.71 L570.00 133.75 L570.25 133.58 L571.00 132.42 L571.25 132.18 L571.50 132.16 L571.75 132.39 L572.00 132.82 L572.50 133.98 L572.75 134.52 L573.00 134.90 L573.25 135.08 L573.50 135.06 L573.75 134.85 L574.50 133.67 L574.75 133.31 L575.00 133.07 L575.25 132.97 L575.50 133.04 L575.75 133.28 L576.00 133.68 L576.25 134.20 L576.75 135.52 L577.25 136.93 L577.75 138.17 L578.00 138.69 L578.50 139.48 L579.00 139.98 L579.50 140.25 L580.25 140.43 L582.00 140.49 L583.00 140.43 L583.50 140.27 L583.75 140.11 L584.00 139.87 L584.25 139.52 L584.50 139.04 L584.75 138.41 L585.00 137.64 L585.75 134.79 L586.00 133.91 L586.25 133.22 L586.50 132.80 L586.75 132.70 L587.00 132.93 L587.25 133.47 L587.50 134.25 L588.25 137.10 L588.50 137.95 L588.75 138.65 L589.00 139.19 L589.25 139.57 L589.50 139.78 L589.75 139.83 L590.00 139.71 L590.25 139.41 L590.50 138.91 L590.75 138.20 L591.00 137.26 L591.25 136.10 L591.50 134.77 L592.00 131.96 L592.25 130.74 L592.50 129.81 L592.75 129.28 L593.00 129.23 L593.25 129.67 L593.50 130.52 L593.75 131.70 L594.25 134.49 L594.50 135.85 L594.75 137.05 L595.00 138.04 L595.25 138.82 L595.50 139.38 L595.75 139.76 L596.00 139.98 L596.25 140.07 L596.50 140.04 L596.75 139.91 L597.00 139.67 L597.25 139.32 L597.50 138.86 L598.00 137.71 L598.50 136.49 L598.75 135.99 L599.00 135.65 L599.25 135.50 L599.50 135.56 L599.75 135.83 L600.00 136.28 L601.00 138.66 L601.25 139.16 L601.50 139.56 L601.75 139.87 L602.25 140.25 L602.75 140.41 L605.25 140.49 L650.50 140.49 M666.00 138.48 L686.00 138.43 L693.25 138.34 L696.75 138.21 L699.00 138.02 L700.25 137.80 L701.25 137.52 L702.00 137.17 L702.50 136.77 L702.75 136.47 L703.00 136.05 L703.25 135.43 L703.50 134.53 L703.75 133.22 L704.00 131.35 L704.25 128.76 L704.50 125.36 L704.75 121.08 L705.00 116.00 L705.25 110.36 L705.50 104.58 L705.75 99.30 L706.00 95.36 L706.25 93.55 L706.50 94.34 L706.75 97.52 L707.00 102.36 L707.25 108.03 L707.50 113.79 L707.75 119.13 L708.00 123.75 L708.25 127.50 L708.50 130.41 L708.75 132.54 L709.00 134.06 L709.25 135.11 L709.50 135.83 L709.75 136.32 L710.00 136.66 L710.50 137.10 L711.25 137.48 L712.25 137.78 L714.00 138.06 L717.00 138.27 L724.25 138.42 L749.50 138.49" stroke="#fbdc6a" stroke-width="1.0" fill="none" stroke-linejoin="round"/>
<path d="M120.50 140.93 L120.75 140.65 L121.00 140.25 L121.25 139.73 L121.50 139.05 L121.75 138.20 L122.00 137.18 L122.25 136.00 L122.50 134.68 L123.00 131.88 L123.25 130.53 L123.50 129.34 L123.75 128.39 L124.00 127.73 L124.25 127.43 L124.50 127.50 L124.75 127.91 L125.00 128.61 L125.25 129.52 L125.75 131.57 L126.00 132.48 L126.25 133.18 L126.50 133.61 L126.75 133.71 L127.00 133.47 L127.25 132.93 L127.50 132.14 L128.25 129.14 L128.50 128.30 L128.75 127.70 L129.00 127.43 L129.25 127.51 L129.50 127.95 L129.75 128.74 L130.00 129.80 L130.25 131.06 L131.00 135.22 L131.25 136.49 L131.50 137.61 L131.75 138.56 L132.00 139.34 L132.25 139.96 L132.50 140.43 L132.75 140.77 L133.25 141.19 M242.50 140.91 L242.75 140.60 L243.00 140.17 L243.25 139.58 L243.50 138.81 L243.75 137.85 L244.00 136.69 L244.25 135.35 L244.50 133.85 L245.00 130.70 L245.25 129.23 L245.50 127.96 L245.75 126.99 L246.00 126.41 L246.25 126.24 L246.50 126.51 L246.75 127.16 L247.00 128.13 L247.25 129.31 L247.75 131.78 L248.00 132.82 L248.25 133.59 L248.50 134.01 L248.75 134.06 L249.00 133.74 L249.25 133.08 L249.50 132.16 L250.00 129.97 L250.25 128.94 L250.50 128.12 L250.75 127.60 L251.00 127.44 L251.25 127.67 L251.50 128.29 L251.75 129.24 L252.00 130.46 L252.75 134.74 L253.00 136.09 L253.25 137.30 L253.50 138.33 L253.75 139.18 L254.00 139.85 L254.25 140.36 L254.50 140.74 L254.75 141.01 M372.25 140.08 L372.50 139.78 L372.75 139.34 L373.00 138.70 L373.25 137.83 L373.50 136.70 L373.75 135.32 L374.00 133.74 L374.50 130.31 L374.75 128.72 L375.00 127.38 L375.25 126.39 L375.50 125.78 L375.75 125.52 L376.00 125.50 L376.50 125.73 L376.75 125.76 L377.50 125.48 L377.75 125.59 L378.00 125.98 L378.25 126.74 L378.50 127.88 L378.75 129.33 L379.50 134.39 L379.75 135.90 L380.00 137.19 L380.25 138.21 L380.50 138.98 L380.75 139.54 L381.00 139.92 M478.25 139.98 L478.75 139.70 L479.25 139.21 L479.75 138.44 L480.25 137.40 L480.75 136.29 L481.00 135.80 L481.25 135.40 L481.50 135.14 L481.75 135.03 L482.00 135.08 L482.25 135.28 L482.50 135.60 L483.25 136.86 L483.75 137.54 L484.00 137.73 L484.25 137.80 L484.50 137.73 L484.75 137.49 L485.00 137.08 L485.25 136.48 L485.50 135.69 L485.75 134.72 L486.00 133.60 L486.50 131.16 L486.75 130.02 L487.00 129.05 L487.25 128.35 L487.50 128.01 L487.75 128.04 L488.00 128.45 L488.25 129.20 L488.50 130.20 L489.25 133.77 L489.50 134.85 L489.75 135.76 L490.00 136.49 L490.25 137.00 L490.50 137.32 L490.75 137.43 L491.00 137.36 L491.25 137.10 L491.50 136.67 L491.75 136.09 L492.25 134.60 L492.75 133.04 L493.00 132.41 L493.25 131.97 L493.50 131.77 L493.75 131.83 L494.00 132.16 L494.25 132.71 L494.50 133.44 L495.25 135.96 L495.50 136.69 L495.75 137.30 L496.00 137.75 L496.25 138.05 L496.50 138.18 L496.75 138.16 L497.00 138.00 L497.25 137.68 L497.50 137.21 L497.75 136.58 L498.00 135.79 L498.25 134.82 L498.50 133.68 L498.75 132.35 L499.00 130.85 L499.25 129.20 L499.50 127.41 L500.25 121.74 L500.50 119.95 L500.75 118.34 L501.00 117.00 L501.25 116.00 L501.50 115.41 L501.75 115.27 L502.00 115.60 L502.25 116.37 L502.50 117.53 L502.75 119.00 L503.00 120.71 L503.75 126.39 L504.00 128.25 L504.25 130.01 L504.50 131.62 L504.75 133.08 L505.00 134.36 L505.25 135.46 L505.50 136.40 L505.75 137.17 L506.00 137.81 L506.25 138.32 L506.50 138.73 L507.00 139.30 L507.50 139.64 L508.25 139.91 M535.50 140.02 L536.00 139.68 L536.50 139.18 L537.00 138.48 L537.50 137.58 L538.75 134.94 L539.25 134.03 L539.50 133.68 L539.75 133.42 L540.00 133.25 L540.25 133.19 L540.50 133.22 L540.75 133.35 L541.25 133.84 L542.00 134.80 L542.50 135.32 L542.75 135.48 L543.00 135.56 L543.25 135.54 L543.50 135.42 L544.00 134.93 L545.00 133.40 L545.50 132.75 L545.75 132.53 L546.00 132.42 L546.25 132.41 L546.50 132.53 L546.75 132.75 L547.00 133.08 L547.50 134.00 L548.75 136.94 L549.25 137.99 L549.75 138.83 L550.25 139.46 L550.75 139.89 L551.25 140.16 M565.75 139.93 L566.00 139.59 L566.25 139.10 L566.50 138.45 L566.75 137.63 L567.00 136.67 L567.50 134.58 L567.75 133.62 L568.00 132.86 L568.25 132.38 L568.50 132.20 L568.75 132.31 L569.00 132.64 L569.50 133.45 L569.75 133.71 L570.00 133.75 L570.25 133.58 L571.00 132.42 L571.25 132.18 L571.50 132.16 L571.75 132.39 L572.00 132.82 L572.50 133.98 L572.75 134.52 L573.00 134.90 L573.25 135.08 L573.50 135.06 L573.75 134.85 L574.50 133.67 L574.75 133.31 L575.00 133.07 L575.25 132.97 L575.50 133.04 L575.75 133.28 L576.00 133.68 L576.25 134.20 L576.75 135.52 L577.25 136.93 L577.75 138.17 L578.00 138.69 L578.50 139.48 L579.00 139.98 M583.75 140.11 L584.00 139.87 L584.25 139.52 L584.50 139.04 L584.75 138.41 L585.00 137.64 L585.75 134.79 L586.00 133.91 L586.25 133.22 L586.50 132.80 L586.75 132.70 L587.00 132.93 L587.25 133.47 L587.50 134.25 L588.25 137.10 L588.50 137.95 L588.75 138.65 L589.00 139.19 L589.25 139.57 L589.50 139.78 L589.75 139.83 L590.00 139.71 L590.25 139.41 L590.50 138.91 L590.75 138.20 L591.00 137.26 L591.25 136.10 L591.50 134.77 L592.00 131.96 L592.25 130.74 L592.50 129.81 L592.75 129.28 L593.00 129.23 L593.25 129.67 L593.50 130.52 L593.75 131.70 L594.25 134.49 L594.50 135.85 L594.75 137.05 L595.00 138.04 L595.25 138.82 L595.50 139.38 L595.75 139.76 L596.00 139.98 M596.75 139.91 L597.00 139.67 L597.25 139.32 L597.50 138.86 L598.00 137.71 L598.50 136.49 L598.75 135.99 L599.00 135.65 L599.25 135.50 L599.50 135.56 L599.75 135.83 L600.00 136.28 L601.00 138.66 L601.25 139.16 L601.50 139.56 L601.75 139.87 L602.25 140.25 M699.00 138.02 L700.25 137.80 L701.25 137.52 L702.00 137.17 L702.50 136.77 L702.75 136.47 L703.00 136.05 L703.25 135.43 L703.50 134.53 L703.75 133.22 L704.00 131.35 L704.25 128.76 L704.50 125.36 L704.75 121.08 L705.00 116.00 L705.25 110.36 L705.50 104.58 L705.75 99.30 L706.00 95.36 L706.25 93.55 L706.50 94.34 L706.75 97.52 L707.00 102.36 L707.25 108.03 L707.50 113.79 L707.75 119.13 L708.00 123.75 L708.25 127.50 L708.50 130.41 L708.75 132.54 L709.00 134.06 L709.25 135.11 L709.50 135.83 L709.75 136.32 L710.00 136.66 L710.50 137.10 L711.25 137.48 L712.25 137.78 L714.00 138.06" stroke="#f5c81e" stroke-width="1.0" fill="none" stroke-linejoin="round" stroke-linecap="round"/>
<path d="M67.50 169.50 L117.00 169.50 L118.50 169.47 L119.25 169.37 L119.75 169.18 L120.25 168.80 L120.50 168.49 L120.75 168.10 L121.00 167.60 L121.25 166.99 L121.50 166.27 L122.00 164.56 L122.50 162.67 L122.75 161.79 L123.00 161.01 L123.25 160.38 L123.50 159.97 L123.75 159.78 L124.00 159.84 L124.25 160.13 L124.50 160.62 L124.75 161.27 L125.50 163.53 L125.75 164.16 L126.00 164.64 L126.25 164.93 L126.50 165.00 L126.75 164.84 L127.00 164.47 L127.25 163.93 L127.75 162.48 L128.25 160.99 L128.50 160.40 L128.75 159.98 L129.00 159.78 L129.25 159.81 L129.50 160.09 L129.75 160.58 L130.00 161.26 L130.25 162.08 L131.00 164.80 L131.25 165.64 L131.50 166.38 L131.75 167.01 L132.00 167.52 L132.25 167.92 L132.50 168.21 L133.00 168.54 L133.50 168.65 L135.00 168.59 L136.00 168.71 L138.00 169.21 L139.25 169.41 L141.75 169.50 L241.25 169.50 L243.00 169.47 L243.75 169.34 L244.25 169.10 L244.50 168.89 L244.75 168.61 L245.00 168.22 L245.25 167.72 L245.50 167.10 L245.75 166.33 L246.00 165.45 L246.50 163.38 L247.00 161.24 L247.25 160.30 L247.50 159.53 L247.75 158.98 L248.00 158.71 L248.25 158.72 L248.50 159.03 L248.75 159.58 L249.00 160.34 L249.75 163.07 L250.00 163.87 L250.25 164.50 L250.50 164.91 L250.75 165.07 L251.00 164.97 L251.25 164.62 L251.50 164.05 L251.75 163.32 L252.50 160.75 L252.75 160.03 L253.00 159.51 L253.25 159.22 L253.50 159.21 L253.75 159.47 L254.00 159.99 L254.25 160.72 L254.50 161.63 L255.25 164.69 L255.50 165.63 L255.75 166.48 L256.00 167.21 L256.25 167.81 L256.50 168.28 L256.75 168.65 L257.25 169.12 L257.75 169.35 L258.75 169.48 L318.50 169.50 M335.50 168.50 L370.00 168.50 L371.25 168.46 L371.75 168.37 L372.25 168.08 L372.50 167.78 L372.75 167.34 L373.00 166.70 L373.25 165.83 L373.50 164.70 L373.75 163.32 L374.00 161.74 L374.50 158.31 L374.75 156.72 L375.00 155.38 L375.25 154.39 L375.50 153.78 L375.75 153.52 L376.00 153.50 L376.50 153.73 L376.75 153.76 L377.50 153.48 L377.75 153.59 L378.00 153.98 L378.25 154.74 L378.50 155.88 L378.75 157.33 L379.50 162.39 L379.75 163.90 L380.00 165.19 L380.25 166.21 L380.50 166.98 L380.75 167.54 L381.00 167.92 L381.25 168.16 L381.75 168.40 L382.75 168.49 L423.00 168.50 M438.50 167.49 L468.00 167.47 L472.50 167.42 L475.00 167.29 L476.00 167.16 L476.75 166.92 L477.25 166.59 L477.75 166.04 L478.25 165.26 L479.00 163.89 L479.25 163.49 L479.50 163.18 L479.75 162.98 L480.00 162.91 L480.25 162.96 L480.50 163.14 L481.00 163.73 L481.50 164.42 L482.00 164.96 L482.25 165.12 L482.50 165.18 L482.75 165.14 L483.00 164.98 L483.25 164.69 L483.50 164.24 L483.75 163.63 L484.00 162.85 L484.25 161.90 L484.50 160.82 L485.00 158.46 L485.25 157.36 L485.50 156.43 L485.75 155.76 L486.00 155.43 L486.25 155.46 L486.50 155.86 L486.75 156.58 L487.00 157.54 L487.75 160.97 L488.00 162.00 L488.25 162.88 L488.50 163.56 L488.75 164.04 L489.00 164.32 L489.25 164.40 L489.50 164.28 L489.75 163.99 L490.00 163.53 L490.25 162.92 L491.00 160.68 L491.25 160.00 L491.50 159.46 L491.75 159.13 L492.00 159.04 L492.25 159.22 L492.50 159.64 L492.75 160.27 L493.25 161.90 L493.75 163.59 L494.00 164.31 L494.25 164.92 L494.50 165.41 L494.75 165.77 L495.00 166.02 L495.50 166.26 L496.00 166.22 L496.50 165.94 L496.75 165.69 L497.00 165.36 L497.25 164.93 L497.50 164.38 L497.75 163.69 L498.00 162.86 L498.25 161.85 L498.50 160.67 L498.75 159.31 L499.00 157.78 L499.25 156.09 L499.50 154.27 L500.25 148.49 L500.50 146.67 L500.75 145.03 L501.00 143.66 L501.25 142.64 L501.50 142.03 L501.75 141.89 L502.00 142.23 L502.25 143.01 L502.50 144.18 L502.75 145.68 L503.00 147.40 L503.75 153.18 L504.00 155.07 L504.25 156.85 L504.50 158.49 L504.75 159.96 L505.00 161.26 L505.25 162.38 L505.50 163.33 L505.75 164.12 L506.00 164.77 L506.25 165.29 L506.50 165.70 L507.00 166.28 L507.50 166.62 L508.25 166.90 L509.75 167.13 L513.25 167.31 L523.00 167.44 L528.25 167.46 L529.50 167.41 L530.25 167.29 L531.00 167.03 L531.50 166.71 L532.00 166.24 L532.50 165.61 L533.00 164.81 L534.25 162.51 L534.75 161.76 L535.25 161.25 L535.75 161.06 L536.25 161.17 L537.50 161.97 L538.00 162.12 L538.50 162.02 L539.00 161.65 L540.00 160.58 L540.50 160.20 L540.75 160.11 L541.00 160.12 L541.25 160.22 L541.50 160.42 L541.75 160.72 L542.25 161.54 L543.50 164.19 L544.00 165.15 L544.50 165.93 L545.00 166.51 L545.50 166.91 L546.00 167.17 L546.75 167.37 L548.25 167.48 L563.75 167.49 L564.75 167.46 L565.25 167.36 L565.75 167.08 L566.00 166.79 L566.25 166.38 L566.50 165.79 L566.75 165.02 L567.00 164.07 L567.25 162.97 L567.75 160.61 L568.00 159.57 L568.25 158.77 L568.50 158.29 L568.75 158.16 L569.00 158.34 L569.25 158.73 L569.75 159.61 L570.00 159.84 L570.25 159.83 L570.50 159.58 L571.00 158.67 L571.25 158.26 L571.50 158.05 L571.75 158.11 L572.00 158.46 L572.25 159.04 L572.75 160.51 L573.00 161.16 L573.25 161.63 L573.50 161.86 L573.75 161.86 L574.00 161.64 L574.25 161.27 L574.75 160.34 L575.00 159.93 L575.25 159.63 L575.50 159.48 L575.75 159.52 L576.00 159.73 L576.25 160.13 L576.50 160.66 L577.00 162.04 L577.50 163.54 L578.00 164.90 L578.25 165.46 L578.50 165.95 L578.75 166.34 L579.25 166.90 L579.75 167.22 L580.50 167.42 L582.00 167.49 L583.00 167.43 L583.50 167.29 L584.00 166.91 L584.25 166.59 L584.50 166.13 L584.75 165.55 L585.00 164.82 L585.75 162.16 L586.00 161.34 L586.25 160.69 L586.50 160.30 L586.75 160.20 L587.00 160.42 L587.25 160.92 L587.50 161.65 L588.25 164.32 L588.50 165.12 L588.75 165.79 L589.00 166.31 L589.25 166.69 L589.50 166.94 L589.75 167.06 L590.00 167.07 L590.25 166.96 L590.50 166.70 L590.75 166.29 L591.00 165.68 L591.25 164.86 L591.50 163.82 L591.75 162.59 L592.25 159.79 L592.50 158.45 L592.75 157.32 L593.00 156.54 L593.25 156.20 L593.50 156.35 L593.75 156.96 L594.00 157.96 L594.25 159.23 L594.75 162.05 L595.00 163.34 L595.25 164.46 L595.50 165.36 L595.75 166.03 L596.00 166.49 L596.25 166.76 L596.50 166.87 L596.75 166.83 L597.00 166.66 L597.25 166.38 L597.50 165.98 L598.00 164.93 L598.50 163.81 L598.75 163.35 L599.00 163.04 L599.25 162.90 L599.50 162.96 L599.75 163.21 L600.00 163.61 L601.00 165.81 L601.25 166.27 L601.50 166.64 L602.00 167.13 L602.50 167.36 L603.50 167.49 L650.50 167.49 M666.00 167.48 L687.00 167.44 L694.25 167.35 L697.75 167.22 L699.75 167.05 L701.25 166.79 L702.25 166.48 L703.00 166.08 L703.50 165.64 L703.75 165.30 L704.00 164.82 L704.25 164.11 L704.50 163.06 L704.75 161.50 L705.00 159.28 L705.25 156.22 L705.50 152.23 L705.75 147.33 L706.00 141.71 L706.25 135.82 L706.50 130.41 L706.75 126.46 L707.00 125.00 L707.25 126.46 L707.50 130.41 L707.75 135.82 L708.00 141.71 L708.25 147.33 L708.50 152.23 L708.75 156.22 L709.00 159.28 L709.25 161.50 L709.50 163.06 L709.75 164.11 L710.00 164.82 L710.25 165.30 L710.50 165.64 L711.00 166.08 L711.75 166.48 L712.75 166.79 L714.25 167.05 L717.00 167.26 L723.25 167.41 L749.50 167.49" stroke="#d876ee" stroke-width="1.0" fill="none" stroke-linejoin="round"/>
<path d="M119.75 169.18 L120.25 168.80 L120.50 168.49 L120.75 168.10 L121.00 167.60 L121.25 166.99 L121.50 166.27 L122.00 164.56 L122.50 162.67 L122.75 161.79 L123.00 161.01 L123.25 160.38 L123.50 159.97 L123.75 159.78 L124.00 159.84 L124.25 160.13 L124.50 160.62 L124.75 161.27 L125.50 163.53 L125.75 164.16 L126.00 164.64 L126.25 164.93 L126.50 165.00 L126.75 164.84 L127.00 164.47 L127.25 163.93 L127.75 162.48 L128.25 160.99 L128.50 160.40 L128.75 159.98 L129.00 159.78 L129.25 159.81 L129.50 160.09 L129.75 160.58 L130.00 161.26 L130.25 162.08 L131.00 164.80 L131.25 165.64 L131.50 166.38 L131.75 167.01 L132.00 167.52 L132.25 167.92 L132.50 168.21 L133.00 168.54 L133.50 168.65 L135.00 168.59 L136.00 168.71 L138.00 169.21 M244.25 169.10 L244.50 168.89 L244.75 168.61 L245.00 168.22 L245.25 167.72 L245.50 167.10 L245.75 166.33 L246.00 165.45 L246.50 163.38 L247.00 161.24 L247.25 160.30 L247.50 159.53 L247.75 158.98 L248.00 158.71 L248.25 158.72 L248.50 159.03 L248.75 159.58 L249.00 160.34 L249.75 163.07 L250.00 163.87 L250.25 164.50 L250.50 164.91 L250.75 165.07 L251.00 164.97 L251.25 164.62 L251.50 164.05 L251.75 163.32 L252.50 160.75 L252.75 160.03 L253.00 159.51 L253.25 159.22 L253.50 159.21 L253.75 159.47 L254.00 159.99 L254.25 160.72 L254.50 161.63 L255.25 164.69 L255.50 165.63 L255.75 166.48 L256.00 167.21 L256.25 167.81 L256.50 168.28 L256.75 168.65 L257.25 169.12 M372.25 168.08 L372.50 167.78 L372.75 167.34 L373.00 166.70 L373.25 165.83 L373.50 164.70 L373.75 163.32 L374.00 161.74 L374.50 158.31 L374.75 156.72 L375.00 155.38 L375.25 154.39 L375.50 153.78 L375.75 153.52 L376.00 153.50 L376.50 153.73 L376.75 153.76 L377.50 153.48 L377.75 153.59 L378.00 153.98 L378.25 154.74 L378.50 155.88 L378.75 157.33 L379.50 162.39 L379.75 163.90 L380.00 165.19 L380.25 166.21 L380.50 166.98 L380.75 167.54 L381.00 167.92 M476.75 166.92 L477.25 166.59 L477.75 166.04 L478.25 165.26 L479.00 163.89 L479.25 163.49 L479.50 163.18 L479.75 162.98 L480.00 162.91 L480.25 162.96 L480.50 163.14 L481.00 163.73 L481.50 164.42 L482.00 164.96 L482.25 165.12 L482.50 165.18 L482.75 165.14 L483.00 164.98 L483.25 164.69 L483.50 164.24 L483.75 163.63 L484.00 162.85 L484.25 161.90 L484.50 160.82 L485.00 158.46 L485.25 157.36 L485.50 156.43 L485.75 155.76 L486.00 155.43 L486.25 155.46 L486.50 155.86 L486.75 156.58 L487.00 157.54 L487.75 160.97 L488.00 162.00 L488.25 162.88 L488.50 163.56 L488.75 164.04 L489.00 164.32 L489.25 164.40 L489.50 164.28 L489.75 163.99 L490.00 163.53 L490.25 162.92 L491.00 160.68 L491.25 160.00 L491.50 159.46 L491.75 159.13 L492.00 159.04 L492.25 159.22 L492.50 159.64 L492.75 160.27 L493.25 161.90 L493.75 163.59 L494.00 164.31 L494.25 164.92 L494.50 165.41 L494.75 165.77 L495.00 166.02 L495.50 166.26 L496.00 166.22 L496.50 165.94 L496.75 165.69 L497.00 165.36 L497.25 164.93 L497.50 164.38 L497.75 163.69 L498.00 162.86 L498.25 161.85 L498.50 160.67 L498.75 159.31 L499.00 157.78 L499.25 156.09 L499.50 154.27 L500.25 148.49 L500.50 146.67 L500.75 145.03 L501.00 143.66 L501.25 142.64 L501.50 142.03 L501.75 141.89 L502.00 142.23 L502.25 143.01 L502.50 144.18 L502.75 145.68 L503.00 147.40 L503.75 153.18 L504.00 155.07 L504.25 156.85 L504.50 158.49 L504.75 159.96 L505.00 161.26 L505.25 162.38 L505.50 163.33 L505.75 164.12 L506.00 164.77 L506.25 165.29 L506.50 165.70 L507.00 166.28 L507.50 166.62 L508.25 166.90 M531.00 167.03 L531.50 166.71 L532.00 166.24 L532.50 165.61 L533.00 164.81 L534.25 162.51 L534.75 161.76 L535.25 161.25 L535.75 161.06 L536.25 161.17 L537.50 161.97 L538.00 162.12 L538.50 162.02 L539.00 161.65 L540.00 160.58 L540.50 160.20 L540.75 160.11 L541.00 160.12 L541.25 160.22 L541.50 160.42 L541.75 160.72 L542.25 161.54 L543.50 164.19 L544.00 165.15 L544.50 165.93 L545.00 166.51 L545.50 166.91 M565.75 167.08 L566.00 166.79 L566.25 166.38 L566.50 165.79 L566.75 165.02 L567.00 164.07 L567.25 162.97 L567.75 160.61 L568.00 159.57 L568.25 158.77 L568.50 158.29 L568.75 158.16 L569.00 158.34 L569.25 158.73 L569.75 159.61 L570.00 159.84 L570.25 159.83 L570.50 159.58 L571.00 158.67 L571.25 158.26 L571.50 158.05 L571.75 158.11 L572.00 158.46 L572.25 159.04 L572.75 160.51 L573.00 161.16 L573.25 161.63 L573.50 161.86 L573.75 161.86 L574.00 161.64 L574.25 161.27 L574.75 160.34 L575.00 159.93 L575.25 159.63 L575.50 159.48 L575.75 159.52 L576.00 159.73 L576.25 160.13 L576.50 160.66 L577.00 162.04 L577.50 163.54 L578.00 164.90 L578.25 165.46 L578.50 165.95 L578.75 166.34 L579.25 166.90 M584.00 166.91 L584.25 166.59 L584.50 166.13 L584.75 165.55 L585.00 164.82 L585.75 162.16 L586.00 161.34 L586.25 160.69 L586.50 160.30 L586.75 160.20 L587.00 160.42 L587.25 160.92 L587.50 161.65 L588.25 164.32 L588.50 165.12 L588.75 165.79 L589.00 166.31 L589.25 166.69 L589.50 166.94 M590.25 166.96 L590.50 166.70 L590.75 166.29 L591.00 165.68 L591.25 164.86 L591.50 163.82 L591.75 162.59 L592.25 159.79 L592.50 158.45 L592.75 157.32 L593.00 156.54 L593.25 156.20 L593.50 156.35 L593.75 156.96 L594.00 157.96 L594.25 159.23 L594.75 162.05 L595.00 163.34 L595.25 164.46 L595.50 165.36 L595.75 166.03 L596.00 166.49 L596.25 166.76 L596.50 166.87 L596.75 166.83 L597.00 166.66 L597.25 166.38 L597.50 165.98 L598.00 164.93 L598.50 163.81 L598.75 163.35 L599.00 163.04 L599.25 162.90 L599.50 162.96 L599.75 163.21 L600.00 163.61 L601.00 165.81 L601.25 166.27 L601.50 166.64 L602.00 167.13 M699.75 167.05 L701.25 166.79 L702.25 166.48 L703.00 166.08 L703.50 165.64 L703.75 165.30 L704.00 164.82 L704.25 164.11 L704.50 163.06 L704.75 161.50 L705.00 159.28 L705.25 156.22 L705.50 152.23 L705.75 147.33 L706.00 141.71 L706.25 135.82 L706.50 130.41 L706.75 126.46 L707.00 125.00 L707.25 126.46 L707.50 130.41 L707.75 135.82 L708.00 141.71 L708.25 147.33 L708.50 152.23 L708.75 156.22 L709.00 159.28 L709.25 161.50 L709.50 163.06 L709.75 164.11 L710.00 164.82 L710.25 165.30 L710.50 165.64 L711.00 166.08 L711.75 166.48 L712.75 166.79 L714.25 167.05" stroke="#c43be6" stroke-width="1.0" fill="none" stroke-linejoin="round" stroke-linecap="round"/>
<path d="M67.50 196.50 L114.75 196.50 L116.25 196.47 L117.00 196.37 L117.50 196.18 L118.00 195.81 L118.25 195.51 L118.50 195.13 L118.75 194.66 L119.00 194.09 L119.50 192.70 L120.25 190.39 L120.50 189.73 L120.75 189.21 L121.00 188.85 L121.25 188.70 L121.50 188.76 L121.75 189.02 L122.00 189.47 L122.25 190.06 L123.00 192.15 L123.25 192.78 L123.50 193.28 L123.75 193.63 L124.00 193.81 L124.25 193.79 L124.50 193.58 L124.75 193.19 L125.00 192.63 L125.25 191.95 L126.00 189.64 L126.25 188.96 L126.50 188.44 L126.75 188.11 L127.00 187.99 L127.25 188.11 L127.50 188.46 L127.75 189.00 L128.00 189.69 L129.00 193.01 L129.25 193.74 L129.50 194.38 L129.75 194.92 L130.00 195.35 L130.25 195.69 L130.75 196.13 L131.25 196.35 L132.25 196.48 L241.25 196.50 L243.00 196.48 L243.75 196.40 L244.25 196.25 L244.75 195.92 L245.00 195.65 L245.25 195.30 L245.50 194.84 L245.75 194.26 L246.00 193.57 L246.25 192.77 L247.25 189.06 L247.50 188.26 L247.75 187.62 L248.00 187.19 L248.25 187.00 L248.50 187.07 L248.75 187.40 L249.00 187.95 L249.25 188.67 L250.00 191.28 L250.25 192.08 L250.50 192.75 L250.75 193.25 L251.00 193.56 L251.25 193.67 L251.50 193.58 L251.75 193.29 L252.00 192.84 L252.25 192.25 L253.00 190.18 L253.25 189.58 L253.50 189.10 L253.75 188.79 L254.00 188.69 L254.25 188.80 L254.50 189.12 L254.75 189.62 L255.00 190.25 L256.00 193.29 L256.25 193.97 L256.50 194.55 L256.75 195.05 L257.00 195.44 L257.50 195.99 L258.00 196.28 L258.75 196.45 L318.50 196.50 M335.50 195.50 L370.50 195.50 L371.75 195.46 L372.25 195.36 L372.75 195.05 L373.00 194.74 L373.25 194.26 L373.50 193.58 L373.75 192.65 L374.00 191.45 L374.25 189.98 L374.50 188.28 L375.00 184.62 L375.25 182.93 L375.50 181.50 L375.75 180.44 L376.00 179.79 L376.25 179.51 L376.50 179.49 L377.00 179.74 L377.25 179.77 L378.00 179.48 L378.25 179.58 L378.50 180.01 L378.75 180.82 L379.00 182.03 L379.25 183.58 L380.00 188.98 L380.25 190.60 L380.50 191.96 L380.75 193.06 L381.00 193.88 L381.25 194.47 L381.50 194.88 L381.75 195.14 L382.25 195.39 L383.25 195.49 L423.00 195.50 M438.50 196.49 L466.75 196.48 L471.25 196.42 L473.25 196.32 L474.25 196.17 L474.75 195.99 L475.25 195.64 L475.75 195.03 L476.25 194.12 L477.00 192.43 L477.25 191.90 L477.50 191.48 L477.75 191.18 L478.00 191.04 L478.25 191.07 L478.50 191.25 L478.75 191.57 L479.75 193.36 L480.25 194.04 L480.50 194.26 L480.75 194.38 L481.00 194.41 L481.25 194.34 L481.50 194.16 L481.75 193.86 L482.00 193.42 L482.25 192.81 L482.50 192.03 L482.75 191.06 L483.00 189.94 L483.75 186.19 L484.00 185.10 L484.25 184.25 L484.50 183.74 L484.75 183.62 L485.00 183.90 L485.25 184.54 L485.50 185.49 L485.75 186.65 L486.25 189.16 L486.50 190.33 L486.75 191.34 L487.00 192.17 L487.25 192.78 L487.50 193.18 L487.75 193.36 L488.00 193.33 L488.25 193.11 L488.50 192.70 L488.75 192.14 L489.00 191.45 L489.75 189.15 L490.00 188.53 L490.25 188.10 L490.50 187.91 L490.75 187.99 L491.00 188.33 L491.25 188.90 L491.50 189.66 L492.25 192.29 L492.50 193.09 L492.75 193.78 L493.00 194.35 L493.25 194.79 L493.50 195.12 L494.00 195.52 L494.50 195.69 L495.25 195.72 L496.00 195.56 L496.50 195.31 L497.00 194.86 L497.25 194.53 L497.50 194.10 L497.75 193.56 L498.00 192.89 L498.25 192.07 L498.50 191.09 L498.75 189.93 L499.00 188.59 L499.25 187.07 L499.50 185.39 L499.75 183.58 L500.50 177.75 L500.75 175.88 L501.00 174.18 L501.25 172.74 L501.50 171.63 L501.75 170.93 L502.00 170.69 L502.25 170.93 L502.50 171.63 L502.75 172.74 L503.00 174.19 L503.25 175.89 L503.50 177.76 L504.00 181.68 L504.25 183.60 L504.50 185.42 L504.75 187.10 L505.00 188.62 L505.25 189.96 L505.50 191.13 L505.75 192.12 L506.00 192.94 L506.25 193.61 L506.50 194.14 L506.75 194.56 L507.00 194.87 L507.50 195.25 L508.00 195.38 L508.50 195.32 L509.75 194.82 L510.25 194.68 L510.75 194.69 L511.25 194.85 L512.75 195.75 L513.50 196.08 L514.50 196.29 L519.25 196.41 L524.00 196.44 L525.25 196.38 L526.00 196.25 L526.50 196.06 L527.00 195.76 L527.50 195.31 L528.00 194.67 L528.50 193.83 L529.75 191.27 L530.25 190.34 L530.75 189.67 L531.00 189.46 L531.25 189.35 L531.50 189.33 L532.00 189.54 L533.25 190.78 L533.75 191.09 L534.00 191.13 L534.25 191.09 L534.75 190.75 L535.25 190.16 L536.00 189.15 L536.50 188.68 L536.75 188.57 L537.00 188.56 L537.25 188.66 L537.50 188.86 L537.75 189.17 L538.25 190.05 L539.50 192.91 L540.00 193.95 L540.50 194.79 L541.00 195.43 L541.50 195.86 L542.00 196.14 L542.75 196.36 L544.25 196.47 L564.25 196.49 L565.50 196.46 L566.25 196.31 L566.75 196.02 L567.00 195.77 L567.25 195.43 L567.50 194.97 L567.75 194.37 L568.00 193.64 L568.25 192.77 L568.75 190.73 L569.25 188.61 L569.50 187.69 L569.75 186.94 L570.00 186.42 L570.25 186.16 L570.50 186.18 L570.75 186.45 L571.00 186.94 L571.25 187.60 L571.75 189.23 L572.25 190.92 L572.50 191.67 L572.75 192.31 L573.00 192.80 L573.25 193.13 L573.50 193.27 L573.75 193.20 L574.00 192.94 L574.25 192.50 L574.50 191.90 L575.25 189.67 L575.50 188.98 L575.75 188.42 L576.00 188.05 L576.25 187.89 L576.50 187.97 L576.75 188.27 L577.00 188.78 L577.25 189.46 L577.75 191.10 L578.25 192.80 L578.50 193.56 L578.75 194.23 L579.00 194.79 L579.25 195.25 L579.50 195.61 L580.00 196.08 L580.50 196.32 L581.25 196.46 L583.00 196.48 L583.75 196.41 L584.25 196.23 L584.50 196.05 L584.75 195.78 L585.00 195.39 L585.25 194.85 L585.50 194.15 L585.75 193.31 L586.50 190.31 L586.75 189.41 L587.00 188.74 L587.25 188.36 L587.50 188.32 L587.75 188.64 L588.00 189.26 L588.25 190.11 L589.00 193.12 L589.25 193.98 L589.50 194.69 L589.75 195.22 L590.00 195.58 L590.25 195.77 L590.50 195.78 L590.75 195.63 L591.00 195.28 L591.25 194.71 L591.50 193.92 L591.75 192.89 L592.00 191.64 L592.75 187.31 L593.00 186.08 L593.25 185.19 L593.50 184.74 L593.75 184.79 L594.00 185.33 L594.25 186.31 L594.50 187.59 L595.00 190.51 L595.25 191.89 L595.50 193.09 L595.75 194.05 L596.00 194.77 L596.25 195.24 L596.50 195.49 L596.75 195.53 L597.00 195.39 L597.25 195.08 L597.50 194.62 L597.75 194.03 L598.50 192.01 L598.75 191.45 L599.00 191.07 L599.25 190.90 L599.50 190.97 L599.75 191.28 L600.00 191.77 L600.75 193.80 L601.00 194.44 L601.25 195.00 L601.50 195.45 L601.75 195.80 L602.25 196.22 L602.75 196.41 L604.25 196.49 L650.50 196.49 M666.00 196.49 L689.00 196.45 L696.00 196.37 L699.25 196.25 L701.00 196.08 L702.25 195.83 L703.00 195.55 L703.50 195.24 L703.75 195.01 L704.00 194.66 L704.25 194.14 L704.50 193.34 L704.75 192.12 L705.00 190.32 L705.25 187.79 L705.50 184.46 L705.75 180.38 L706.25 171.35 L706.50 167.76 L706.75 166.05 L707.00 166.80 L707.25 169.75 L707.50 173.99 L707.75 178.60 L708.00 182.91 L708.25 186.56 L708.50 189.40 L708.75 191.48 L709.00 192.92 L709.25 193.86 L709.50 194.48 L709.75 194.89 L710.25 195.35 L711.00 195.72 L712.00 195.98 L713.75 196.20 L717.50 196.37 L732.75 196.48 L750.00 196.49" stroke="#98dc8e" stroke-width="1.0" fill="none" stroke-linejoin="round"/>
<path d="M117.50 196.18 L118.00 195.81 L118.25 195.51 L118.50 195.13 L118.75 194.66 L119.00 194.09 L119.50 192.70 L120.25 190.39 L120.50 189.73 L120.75 189.21 L121.00 188.85 L121.25 188.70 L121.50 188.76 L121.75 189.02 L122.00 189.47 L122.25 190.06 L123.00 192.15 L123.25 192.78 L123.50 193.28 L123.75 193.63 L124.00 193.81 L124.25 193.79 L124.50 193.58 L124.75 193.19 L125.00 192.63 L125.25 191.95 L126.00 189.64 L126.25 188.96 L126.50 188.44 L126.75 188.11 L127.00 187.99 L127.25 188.11 L127.50 188.46 L127.75 189.00 L128.00 189.69 L129.00 193.01 L129.25 193.74 L129.50 194.38 L129.75 194.92 L130.00 195.35 L130.25 195.69 L130.75 196.13 M244.75 195.92 L245.00 195.65 L245.25 195.30 L245.50 194.84 L245.75 194.26 L246.00 193.57 L246.25 192.77 L247.25 189.06 L247.50 188.26 L247.75 187.62 L248.00 187.19 L248.25 187.00 L248.50 187.07 L248.75 187.40 L249.00 187.95 L249.25 188.67 L250.00 191.28 L250.25 192.08 L250.50 192.75 L250.75 193.25 L251.00 193.56 L251.25 193.67 L251.50 193.58 L251.75 193.29 L252.00 192.84 L252.25 192.25 L253.00 190.18 L253.25 189.58 L253.50 189.10 L253.75 188.79 L254.00 188.69 L254.25 188.80 L254.50 189.12 L254.75 189.62 L255.00 190.25 L256.00 193.29 L256.25 193.97 L256.50 194.55 L256.75 195.05 L257.00 195.44 L257.50 195.99 M372.75 195.05 L373.00 194.74 L373.25 194.26 L373.50 193.58 L373.75 192.65 L374.00 191.45 L374.25 189.98 L374.50 188.28 L375.00 184.62 L375.25 182.93 L375.50 181.50 L375.75 180.44 L376.00 179.79 L376.25 179.51 L376.50 179.49 L377.00 179.74 L377.25 179.77 L378.00 179.48 L378.25 179.58 L378.50 180.01 L378.75 180.82 L379.00 182.03 L379.25 183.58 L380.00 188.98 L380.25 190.60 L380.50 191.96 L380.75 193.06 L381.00 193.88 L381.25 194.47 L381.50 194.88 L381.75 195.14 M474.75 195.99 L475.25 195.64 L475.75 195.03 L476.25 194.12 L477.00 192.43 L477.25 191.90 L477.50 191.48 L477.75 191.18 L478.00 191.04 L478.25 191.07 L478.50 191.25 L478.75 191.57 L479.75 193.36 L480.25 194.04 L480.50 194.26 L480.75 194.38 L481.00 194.41 L481.25 194.34 L481.50 194.16 L481.75 193.86 L482.00 193.42 L482.25 192.81 L482.50 192.03 L482.75 191.06 L483.00 189.94 L483.75 186.19 L484.00 185.10 L484.25 184.25 L484.50 183.74 L484.75 183.62 L485.00 183.90 L485.25 184.54 L485.50 185.49 L485.75 186.65 L486.25 189.16 L486.50 190.33 L486.75 191.34 L487.00 192.17 L487.25 192.78 L487.50 193.18 L487.75 193.36 L488.00 193.33 L488.25 193.11 L488.50 192.70 L488.75 192.14 L489.00 191.45 L489.75 189.15 L490.00 188.53 L490.25 188.10 L490.50 187.91 L490.75 187.99 L491.00 188.33 L491.25 188.90 L491.50 189.66 L492.25 192.29 L492.50 193.09 L492.75 193.78 L493.00 194.35 L493.25 194.79 L493.50 195.12 L494.00 195.52 L494.50 195.69 L495.25 195.72 L496.00 195.56 L496.50 195.31 L497.00 194.86 L497.25 194.53 L497.50 194.10 L497.75 193.56 L498.00 192.89 L498.25 192.07 L498.50 191.09 L498.75 189.93 L499.00 188.59 L499.25 187.07 L499.50 185.39 L499.75 183.58 L500.50 177.75 L500.75 175.88 L501.00 174.18 L501.25 172.74 L501.50 171.63 L501.75 170.93 L502.00 170.69 L502.25 170.93 L502.50 171.63 L502.75 172.74 L503.00 174.19 L503.25 175.89 L503.50 177.76 L504.00 181.68 L504.25 183.60 L504.50 185.42 L504.75 187.10 L505.00 188.62 L505.25 189.96 L505.50 191.13 L505.75 192.12 L506.00 192.94 L506.25 193.61 L506.50 194.14 L506.75 194.56 L507.00 194.87 L507.50 195.25 L508.00 195.38 L508.50 195.32 L509.75 194.82 L510.25 194.68 L510.75 194.69 L511.25 194.85 L512.75 195.75 L513.50 196.08 M526.50 196.06 L527.00 195.76 L527.50 195.31 L528.00 194.67 L528.50 193.83 L529.75 191.27 L530.25 190.34 L530.75 189.67 L531.00 189.46 L531.25 189.35 L531.50 189.33 L532.00 189.54 L533.25 190.78 L533.75 191.09 L534.00 191.13 L534.25 191.09 L534.75 190.75 L535.25 190.16 L536.00 189.15 L536.50 188.68 L536.75 188.57 L537.00 188.56 L537.25 188.66 L537.50 188.86 L537.75 189.17 L538.25 190.05 L539.50 192.91 L540.00 193.95 L540.50 194.79 L541.00 195.43 L541.50 195.86 L542.00 196.14 M566.75 196.02 L567.00 195.77 L567.25 195.43 L567.50 194.97 L567.75 194.37 L568.00 193.64 L568.25 192.77 L568.75 190.73 L569.25 188.61 L569.50 187.69 L569.75 186.94 L570.00 186.42 L570.25 186.16 L570.50 186.18 L570.75 186.45 L571.00 186.94 L571.25 187.60 L571.75 189.23 L572.25 190.92 L572.50 191.67 L572.75 192.31 L573.00 192.80 L573.25 193.13 L573.50 193.27 L573.75 193.20 L574.00 192.94 L574.25 192.50 L574.50 191.90 L575.25 189.67 L575.50 188.98 L575.75 188.42 L576.00 188.05 L576.25 187.89 L576.50 187.97 L576.75 188.27 L577.00 188.78 L577.25 189.46 L577.75 191.10 L578.25 192.80 L578.50 193.56 L578.75 194.23 L579.00 194.79 L579.25 195.25 L579.50 195.61 L580.00 196.08 M584.50 196.05 L584.75 195.78 L585.00 195.39 L585.25 194.85 L585.50 194.15 L585.75 193.31 L586.50 190.31 L586.75 189.41 L587.00 188.74 L587.25 188.36 L587.50 188.32 L587.75 188.64 L588.00 189.26 L588.25 190.11 L589.00 193.12 L589.25 193.98 L589.50 194.69 L589.75 195.22 L590.00 195.58 L590.25 195.77 L590.50 195.78 L590.75 195.63 L591.00 195.28 L591.25 194.71 L591.50 193.92 L591.75 192.89 L592.00 191.64 L592.75 187.31 L593.00 186.08 L593.25 185.19 L593.50 184.74 L593.75 184.79 L594.00 185.33 L594.25 186.31 L594.50 187.59 L595.00 190.51 L595.25 191.89 L595.50 193.09 L595.75 194.05 L596.00 194.77 L596.25 195.24 L596.50 195.49 L596.75 195.53 L597.00 195.39 L597.25 195.08 L597.50 194.62 L597.75 194.03 L598.50 192.01 L598.75 191.45 L599.00 191.07 L599.25 190.90 L599.50 190.97 L599.75 191.28 L600.00 191.77 L600.75 193.80 L601.00 194.44 L601.25 195.00 L601.50 195.45 L601.75 195.80 L602.25 196.22 M701.00 196.08 L702.25 195.83 L703.00 195.55 L703.50 195.24 L703.75 195.01 L704.00 194.66 L704.25 194.14 L704.50 193.34 L704.75 192.12 L705.00 190.32 L705.25 187.79 L705.50 184.46 L705.75 180.38 L706.25 171.35 L706.50 167.76 L706.75 166.05 L707.00 166.80 L707.25 169.75 L707.50 173.99 L707.75 178.60 L708.00 182.91 L708.25 186.56 L708.50 189.40 L708.75 191.48 L709.00 192.92 L709.25 193.86 L709.50 194.48 L709.75 194.89 L710.25 195.35 L711.00 195.72 L712.00 195.98" stroke="#5cc04a" stroke-width="1.0" fill="none" stroke-linejoin="round" stroke-linecap="round"/>
<path d="M67.50 221.50 L114.00 221.50 L115.75 221.46 L116.50 221.34 L117.00 221.14 L117.50 220.76 L118.00 220.13 L118.50 219.24 L119.50 217.09 L119.75 216.64 L120.00 216.29 L120.25 216.07 L120.50 215.99 L120.75 216.05 L121.00 216.26 L121.25 216.58 L122.25 218.32 L122.50 218.67 L122.75 218.92 L123.00 219.04 L123.25 219.03 L123.50 218.88 L123.75 218.61 L124.25 217.81 L124.75 216.90 L125.00 216.51 L125.25 216.21 L125.50 216.03 L125.75 215.99 L126.00 216.10 L126.25 216.35 L126.50 216.73 L127.00 217.72 L127.75 219.34 L128.25 220.20 L128.75 220.80 L129.25 221.15 L129.75 221.33 L130.50 221.40 L131.50 221.30 L134.00 220.71 L135.00 220.60 L136.00 220.71 L138.00 221.21 L139.25 221.41 L141.75 221.50 L243.00 221.50 L244.75 221.48 L245.50 221.39 L246.00 221.25 L246.50 220.97 L247.00 220.50 L247.50 219.81 L248.50 218.06 L249.00 217.34 L249.25 217.12 L249.50 217.01 L249.75 217.02 L250.00 217.15 L250.25 217.39 L250.75 218.11 L251.50 219.32 L252.00 219.90 L252.25 220.06 L252.50 220.12 L252.75 220.08 L253.00 219.95 L253.50 219.45 L254.25 218.41 L254.75 217.84 L255.00 217.67 L255.25 217.60 L255.50 217.63 L255.75 217.77 L256.25 218.31 L257.25 219.82 L257.75 220.47 L258.25 220.94 L258.75 221.22 L259.50 221.42 L318.50 221.50 M335.50 221.50 L370.00 221.50 L371.25 221.46 L371.75 221.37 L372.25 221.07 L372.50 220.78 L372.75 220.33 L373.00 219.69 L373.25 218.82 L373.50 217.68 L373.75 216.29 L374.00 214.70 L374.50 211.25 L374.75 209.65 L375.00 208.30 L375.25 207.31 L375.50 206.69 L375.75 206.43 L376.00 206.41 L376.50 206.64 L376.75 206.67 L377.50 206.39 L377.75 206.50 L378.00 206.89 L378.25 207.66 L378.50 208.80 L378.75 210.26 L379.50 215.36 L379.75 216.88 L380.00 218.17 L380.25 219.20 L380.50 219.97 L380.75 220.53 L381.00 220.91 L381.25 221.16 L381.75 221.40 L382.75 221.49 L423.00 221.50 M438.50 221.49 L464.75 221.48 L469.00 221.42 L471.50 221.28 L472.50 221.15 L473.25 220.92 L473.75 220.59 L474.25 220.04 L474.75 219.23 L475.50 217.72 L475.75 217.25 L476.00 216.87 L476.25 216.60 L476.50 216.46 L476.75 216.48 L477.00 216.63 L477.25 216.89 L478.25 218.36 L478.50 218.64 L478.75 218.83 L479.00 218.90 L479.25 218.84 L479.50 218.63 L479.75 218.26 L480.00 217.70 L480.25 216.96 L480.50 216.04 L480.75 214.97 L481.25 212.59 L481.50 211.44 L481.75 210.45 L482.00 209.71 L482.25 209.30 L482.50 209.26 L482.75 209.60 L483.00 210.28 L483.25 211.22 L484.00 214.73 L484.25 215.83 L484.50 216.79 L484.75 217.58 L485.00 218.18 L485.25 218.62 L485.50 218.88 L485.75 219.00 L486.00 218.97 L486.25 218.80 L486.50 218.51 L486.75 218.10 L487.25 217.01 L487.75 215.81 L488.00 215.29 L488.25 214.90 L488.50 214.68 L488.75 214.67 L489.00 214.87 L489.25 215.26 L489.50 215.81 L490.25 217.89 L490.75 219.13 L491.00 219.63 L491.25 220.02 L491.75 220.55 L492.25 220.81 L493.00 220.96 L494.25 220.96 L495.25 220.84 L496.00 220.57 L496.50 220.22 L497.00 219.63 L497.25 219.20 L497.50 218.67 L497.75 218.01 L498.00 217.21 L498.25 216.25 L498.50 215.12 L498.75 213.83 L499.00 212.37 L499.25 210.77 L499.50 209.04 L500.25 203.56 L500.50 201.83 L500.75 200.28 L501.00 198.98 L501.25 198.01 L501.50 197.44 L501.75 197.31 L502.00 197.62 L502.25 198.36 L502.50 199.47 L502.75 200.88 L503.00 202.51 L503.75 207.97 L504.00 209.75 L504.25 211.43 L504.50 212.98 L504.75 214.38 L505.00 215.60 L505.25 216.66 L505.50 217.56 L505.75 218.31 L506.00 218.92 L506.25 219.41 L506.50 219.79 L507.00 220.32 L507.50 220.62 L508.00 220.74 L508.50 220.71 L509.00 220.55 L509.50 220.24 L510.25 219.54 L511.00 218.76 L511.50 218.40 L512.00 218.28 L512.50 218.44 L513.00 218.85 L514.25 220.23 L514.75 220.68 L515.25 220.99 L516.00 221.25 L517.25 221.38 L518.75 221.38 L519.75 221.26 L520.50 221.00 L521.00 220.67 L521.50 220.19 L522.00 219.52 L522.50 218.67 L523.75 216.14 L524.25 215.27 L524.50 214.94 L524.75 214.69 L525.00 214.53 L525.25 214.47 L525.50 214.51 L526.00 214.85 L527.25 216.34 L527.75 216.73 L528.00 216.80 L528.25 216.78 L528.50 216.66 L528.75 216.45 L529.25 215.79 L530.25 214.13 L530.75 213.52 L531.00 213.36 L531.25 213.30 L531.50 213.36 L531.75 213.54 L532.00 213.83 L532.25 214.22 L532.75 215.24 L533.75 217.65 L534.25 218.75 L534.75 219.65 L535.25 220.33 L535.75 220.80 L536.25 221.10 L537.00 221.34 L538.25 221.46 L563.75 221.49 L565.00 221.47 L565.75 221.33 L566.25 221.04 L566.50 220.78 L566.75 220.42 L567.00 219.93 L567.25 219.30 L567.50 218.53 L567.75 217.63 L568.50 214.58 L568.75 213.67 L569.00 212.91 L569.25 212.36 L569.50 212.05 L569.75 211.98 L570.00 212.12 L570.25 212.42 L570.50 212.85 L571.00 213.92 L571.50 215.15 L572.50 217.81 L572.75 218.40 L573.00 218.90 L573.25 219.28 L573.50 219.50 L573.75 219.55 L574.00 219.44 L574.25 219.15 L574.50 218.71 L574.75 218.13 L575.25 216.67 L575.75 215.07 L576.00 214.33 L576.25 213.70 L576.50 213.21 L576.75 212.90 L577.00 212.79 L577.25 212.90 L577.50 213.21 L577.75 213.70 L578.00 214.34 L578.50 215.89 L579.00 217.51 L579.50 218.93 L579.75 219.51 L580.00 220.00 L580.25 220.39 L580.75 220.94 L581.25 221.24 L582.00 221.43 L583.25 221.48 L584.00 221.44 L584.50 221.30 L585.00 220.95 L585.25 220.65 L585.50 220.23 L585.75 219.68 L586.00 219.00 L586.75 216.53 L587.00 215.76 L587.25 215.16 L587.50 214.79 L587.75 214.70 L588.00 214.91 L588.25 215.37 L588.50 216.05 L589.25 218.54 L589.50 219.29 L589.75 219.91 L590.00 220.40 L590.25 220.76 L590.50 220.99 L590.75 221.12 L591.00 221.14 L591.25 221.05 L591.50 220.84 L591.75 220.49 L592.00 219.96 L592.25 219.22 L592.50 218.27 L592.75 217.10 L593.00 215.77 L593.50 212.97 L593.75 211.74 L594.00 210.81 L594.25 210.28 L594.50 210.24 L594.75 210.67 L595.00 211.52 L595.25 212.70 L595.75 215.49 L596.00 216.83 L596.25 218.02 L596.50 218.99 L596.75 219.72 L597.00 220.22 L597.25 220.50 L597.50 220.58 L597.75 220.49 L598.00 220.25 L598.25 219.88 L598.75 218.87 L599.25 217.79 L599.50 217.37 L599.75 217.09 L600.00 217.00 L600.25 217.09 L600.50 217.37 L600.75 217.80 L601.50 219.44 L602.00 220.37 L602.25 220.72 L602.75 221.17 L603.25 221.38 L604.25 221.49 L650.50 221.50 M666.00 221.49 L691.25 221.46 L698.00 221.39 L701.00 221.27 L702.50 221.12 L703.50 220.92 L704.00 220.74 L704.50 220.41 L704.75 220.13 L705.00 219.70 L705.25 219.03 L705.50 218.03 L705.75 216.59 L706.00 214.65 L706.25 212.19 L706.50 209.35 L706.75 206.38 L707.00 203.75 L707.25 202.09 L707.50 201.93 L707.75 203.32 L708.00 205.81 L708.50 211.65 L708.75 214.19 L709.00 216.24 L709.25 217.78 L709.50 218.86 L709.75 219.58 L710.00 220.06 L710.25 220.37 L710.75 220.71 L711.50 220.97 L713.00 221.21 L716.00 221.37 L728.50 221.48 L750.00 221.49" stroke="#f98cb0" stroke-width="1.0" fill="none" stroke-linejoin="round"/>
<path d="M117.00 221.14 L117.50 220.76 L118.00 220.13 L118.50 219.24 L119.50 217.09 L119.75 216.64 L120.00 216.29 L120.25 216.07 L120.50 215.99 L120.75 216.05 L121.00 216.26 L121.25 216.58 L122.25 218.32 L122.50 218.67 L122.75 218.92 L123.00 219.04 L123.25 219.03 L123.50 218.88 L123.75 218.61 L124.25 217.81 L124.75 216.90 L125.00 216.51 L125.25 216.21 L125.50 216.03 L125.75 215.99 L126.00 216.10 L126.25 216.35 L126.50 216.73 L127.00 217.72 L127.75 219.34 L128.25 220.20 L128.75 220.80 L129.25 221.15 M131.50 221.30 L134.00 220.71 L135.00 220.60 L136.00 220.71 L138.00 221.21 M246.50 220.97 L247.00 220.50 L247.50 219.81 L248.50 218.06 L249.00 217.34 L249.25 217.12 L249.50 217.01 L249.75 217.02 L250.00 217.15 L250.25 217.39 L250.75 218.11 L251.50 219.32 L252.00 219.90 L252.25 220.06 L252.50 220.12 L252.75 220.08 L253.00 219.95 L253.50 219.45 L254.25 218.41 L254.75 217.84 L255.00 217.67 L255.25 217.60 L255.50 217.63 L255.75 217.77 L256.25 218.31 L257.25 219.82 L257.75 220.47 L258.25 220.94 M372.25 221.07 L372.50 220.78 L372.75 220.33 L373.00 219.69 L373.25 218.82 L373.50 217.68 L373.75 216.29 L374.00 214.70 L374.50 211.25 L374.75 209.65 L375.00 208.30 L375.25 207.31 L375.50 206.69 L375.75 206.43 L376.00 206.41 L376.50 206.64 L376.75 206.67 L377.50 206.39 L377.75 206.50 L378.00 206.89 L378.25 207.66 L378.50 208.80 L378.75 210.26 L379.50 215.36 L379.75 216.88 L380.00 218.17 L380.25 219.20 L380.50 219.97 L380.75 220.53 L381.00 220.91 M473.25 220.92 L473.75 220.59 L474.25 220.04 L474.75 219.23 L475.50 217.72 L475.75 217.25 L476.00 216.87 L476.25 216.60 L476.50 216.46 L476.75 216.48 L477.00 216.63 L477.25 216.89 L478.25 218.36 L478.50 218.64 L478.75 218.83 L479.00 218.90 L479.25 218.84 L479.50 218.63 L479.75 218.26 L480.00 217.70 L480.25 216.96 L480.50 216.04 L480.75 214.97 L481.25 212.59 L481.50 211.44 L481.75 210.45 L482.00 209.71 L482.25 209.30 L482.50 209.26 L482.75 209.60 L483.00 210.28 L483.25 211.22 L484.00 214.73 L484.25 215.83 L484.50 216.79 L484.75 217.58 L485.00 218.18 L485.25 218.62 L485.50 218.88 L485.75 219.00 L486.00 218.97 L486.25 218.80 L486.50 218.51 L486.75 218.10 L487.25 217.01 L487.75 215.81 L488.00 215.29 L488.25 214.90 L488.50 214.68 L488.75 214.67 L489.00 214.87 L489.25 215.26 L489.50 215.81 L490.25 217.89 L490.75 219.13 L491.00 219.63 L491.25 220.02 L491.75 220.55 L492.25 220.81 L493.00 220.96 L494.25 220.96 L495.25 220.84 L496.00 220.57 L496.50 220.22 L497.00 219.63 L497.25 219.20 L497.50 218.67 L497.75 218.01 L498.00 217.21 L498.25 216.25 L498.50 215.12 L498.75 213.83 L499.00 212.37 L499.25 210.77 L499.50 209.04 L500.25 203.56 L500.50 201.83 L500.75 200.28 L501.00 198.98 L501.25 198.01 L501.50 197.44 L501.75 197.31 L502.00 197.62 L502.25 198.36 L502.50 199.47 L502.75 200.88 L503.00 202.51 L503.75 207.97 L504.00 209.75 L504.25 211.43 L504.50 212.98 L504.75 214.38 L505.00 215.60 L505.25 216.66 L505.50 217.56 L505.75 218.31 L506.00 218.92 L506.25 219.41 L506.50 219.79 L507.00 220.32 L507.50 220.62 L508.00 220.74 L508.50 220.71 L509.00 220.55 L509.50 220.24 L510.25 219.54 L511.00 218.76 L511.50 218.40 L512.00 218.28 L512.50 218.44 L513.00 218.85 L514.25 220.23 L514.75 220.68 L515.25 220.99 M520.50 221.00 L521.00 220.67 L521.50 220.19 L522.00 219.52 L522.50 218.67 L523.75 216.14 L524.25 215.27 L524.50 214.94 L524.75 214.69 L525.00 214.53 L525.25 214.47 L525.50 214.51 L526.00 214.85 L527.25 216.34 L527.75 216.73 L528.00 216.80 L528.25 216.78 L528.50 216.66 L528.75 216.45 L529.25 215.79 L530.25 214.13 L530.75 213.52 L531.00 213.36 L531.25 213.30 L531.50 213.36 L531.75 213.54 L532.00 213.83 L532.25 214.22 L532.75 215.24 L533.75 217.65 L534.25 218.75 L534.75 219.65 L535.25 220.33 L535.75 220.80 L536.25 221.10 M566.25 221.04 L566.50 220.78 L566.75 220.42 L567.00 219.93 L567.25 219.30 L567.50 218.53 L567.75 217.63 L568.50 214.58 L568.75 213.67 L569.00 212.91 L569.25 212.36 L569.50 212.05 L569.75 211.98 L570.00 212.12 L570.25 212.42 L570.50 212.85 L571.00 213.92 L571.50 215.15 L572.50 217.81 L572.75 218.40 L573.00 218.90 L573.25 219.28 L573.50 219.50 L573.75 219.55 L574.00 219.44 L574.25 219.15 L574.50 218.71 L574.75 218.13 L575.25 216.67 L575.75 215.07 L576.00 214.33 L576.25 213.70 L576.50 213.21 L576.75 212.90 L577.00 212.79 L577.25 212.90 L577.50 213.21 L577.75 213.70 L578.00 214.34 L578.50 215.89 L579.00 217.51 L579.50 218.93 L579.75 219.51 L580.00 220.00 L580.25 220.39 L580.75 220.94 M585.00 220.95 L585.25 220.65 L585.50 220.23 L585.75 219.68 L586.00 219.00 L586.75 216.53 L587.00 215.76 L587.25 215.16 L587.50 214.79 L587.75 214.70 L588.00 214.91 L588.25 215.37 L588.50 216.05 L589.25 218.54 L589.50 219.29 L589.75 219.91 L590.00 220.40 L590.25 220.76 L590.50 220.99 M591.25 221.05 L591.50 220.84 L591.75 220.49 L592.00 219.96 L592.25 219.22 L592.50 218.27 L592.75 217.10 L593.00 215.77 L593.50 212.97 L593.75 211.74 L594.00 210.81 L594.25 210.28 L594.50 210.24 L594.75 210.67 L595.00 211.52 L595.25 212.70 L595.75 215.49 L596.00 216.83 L596.25 218.02 L596.50 218.99 L596.75 219.72 L597.00 220.22 L597.25 220.50 L597.50 220.58 L597.75 220.49 L598.00 220.25 L598.25 219.88 L598.75 218.87 L599.25 217.79 L599.50 217.37 L599.75 217.09 L600.00 217.00 L600.25 217.09 L600.50 217.37 L600.75 217.80 L601.50 219.44 L602.00 220.37 L602.25 220.72 L602.75 221.17 M703.50 220.92 L704.00 220.74 L704.50 220.41 L704.75 220.13 L705.00 219.70 L705.25 219.03 L705.50 218.03 L705.75 216.59 L706.00 214.65 L706.25 212.19 L706.50 209.35 L706.75 206.38 L707.00 203.75 L707.25 202.09 L707.50 201.93 L707.75 203.32 L708.00 205.81 L708.50 211.65 L708.75 214.19 L709.00 216.24 L709.25 217.78 L709.50 218.86 L709.75 219.58 L710.00 220.06 L710.25 220.37 L710.75 220.71 L711.50 220.97" stroke="#ee1f4e" stroke-width="1.0" fill="none" stroke-linejoin="round" stroke-linecap="round"/>
<path d="M67.50 246.50 L114.25 246.50 L116.00 246.47 L116.75 246.37 L117.25 246.21 L117.75 245.94 L118.25 245.53 L119.50 244.10 L120.00 243.66 L120.50 243.50 L121.00 243.65 L121.50 244.08 L122.25 244.89 L122.75 245.31 L123.25 245.51 L123.75 245.42 L124.25 245.08 L125.25 244.03 L125.75 243.63 L126.25 243.50 L126.75 243.69 L127.25 244.15 L128.25 245.31 L128.75 245.77 L129.25 246.08 L129.75 246.25 L130.50 246.32 L133.25 245.94 L134.25 245.90 L135.75 246.09 L137.50 246.37 L139.50 246.49 L246.50 246.50 L248.50 246.47 L249.25 246.39 L250.00 246.16 L250.50 245.88 L251.25 245.23 L252.00 244.50 L252.50 244.13 L253.00 243.99 L253.50 244.12 L254.00 244.46 L254.75 245.09 L255.25 245.40 L255.75 245.51 L256.25 245.40 L257.50 244.68 L258.00 244.51 L258.50 244.54 L259.00 244.76 L260.25 245.71 L261.00 246.15 L261.75 246.38 L263.00 246.49 L318.50 246.50 M335.50 246.50 L370.50 246.50 L371.75 246.47 L372.25 246.38 L372.75 246.13 L373.00 245.87 L373.25 245.48 L373.50 244.92 L373.75 244.16 L374.00 243.17 L374.25 241.96 L374.50 240.57 L375.00 237.56 L375.25 236.17 L375.50 235.00 L375.75 234.13 L376.00 233.59 L376.25 233.36 L376.50 233.35 L377.00 233.54 L377.25 233.57 L378.00 233.33 L378.25 233.42 L378.50 233.77 L378.75 234.44 L379.00 235.43 L379.25 236.70 L380.00 241.14 L380.25 242.47 L380.50 243.59 L380.75 244.49 L381.00 245.17 L381.25 245.66 L381.50 245.99 L381.75 246.20 L382.25 246.41 L383.50 246.50 L423.00 246.50 M438.50 246.49 L462.25 246.48 L466.50 246.42 L468.75 246.30 L469.75 246.17 L470.50 245.95 L471.00 245.64 L471.50 245.16 L472.00 244.47 L472.75 243.31 L473.25 242.73 L473.50 242.58 L473.75 242.53 L474.00 242.59 L474.50 242.97 L475.25 243.78 L475.75 244.19 L476.00 244.29 L476.25 244.31 L476.50 244.24 L476.75 244.06 L477.00 243.75 L477.25 243.30 L477.50 242.70 L477.75 241.95 L478.00 241.05 L478.75 237.86 L479.00 236.87 L479.25 236.05 L479.50 235.50 L479.75 235.26 L480.00 235.36 L480.25 235.79 L480.50 236.51 L480.75 237.43 L481.50 240.62 L481.75 241.55 L482.00 242.35 L482.25 242.97 L482.50 243.42 L482.75 243.70 L483.00 243.83 L483.25 243.80 L483.50 243.65 L483.75 243.38 L484.25 242.58 L484.75 241.66 L485.00 241.27 L485.25 240.97 L485.50 240.82 L485.75 240.82 L486.00 241.00 L486.25 241.32 L486.50 241.78 L487.50 244.01 L488.00 244.89 L488.50 245.47 L489.00 245.80 L489.75 246.02 L491.25 246.13 L493.25 246.10 L494.25 245.99 L495.00 245.81 L495.50 245.57 L496.00 245.17 L496.50 244.51 L496.75 244.05 L497.00 243.47 L497.25 242.76 L497.50 241.92 L497.75 240.93 L498.00 239.78 L498.25 238.48 L498.50 237.05 L498.75 235.50 L499.50 230.52 L499.75 228.93 L500.00 227.48 L500.25 226.24 L500.50 225.30 L500.75 224.70 L501.00 224.50 L501.25 224.70 L501.50 225.30 L501.75 226.24 L502.00 227.48 L502.25 228.93 L502.75 232.19 L503.25 235.50 L503.50 237.05 L503.75 238.49 L504.00 239.78 L504.25 240.93 L504.50 241.92 L504.75 242.77 L505.00 243.47 L505.25 244.05 L505.50 244.52 L505.75 244.88 L506.25 245.39 L506.75 245.67 L507.25 245.78 L507.75 245.75 L508.25 245.58 L508.75 245.25 L509.50 244.51 L510.25 243.67 L510.75 243.26 L511.25 243.10 L511.75 243.23 L512.25 243.63 L513.25 244.75 L513.75 245.21 L514.25 245.47 L514.75 245.50 L515.25 245.27 L515.75 244.80 L516.25 244.09 L516.75 243.19 L517.75 241.18 L518.25 240.32 L518.50 239.99 L518.75 239.73 L519.00 239.57 L519.25 239.49 L519.50 239.51 L520.00 239.77 L521.00 240.74 L521.50 241.10 L521.75 241.18 L522.00 241.17 L522.25 241.08 L522.75 240.67 L523.75 239.33 L524.25 238.78 L524.50 238.61 L524.75 238.54 L525.00 238.57 L525.25 238.71 L525.50 238.96 L525.75 239.31 L526.25 240.24 L527.50 243.12 L528.00 244.12 L528.50 244.93 L529.00 245.52 L529.50 245.92 L530.00 246.17 L530.75 246.37 L532.50 246.47 L564.00 246.49 L565.25 246.45 L565.75 246.33 L566.00 246.20 L566.25 245.99 L566.50 245.67 L566.75 245.20 L567.00 244.55 L567.25 243.73 L567.50 242.73 L568.25 239.34 L568.50 238.40 L568.75 237.74 L569.00 237.41 L569.25 237.41 L569.50 237.68 L570.00 238.57 L570.25 238.92 L570.50 239.06 L570.75 238.96 L571.00 238.65 L571.50 237.81 L571.75 237.53 L572.00 237.50 L572.25 237.78 L572.50 238.35 L572.75 239.15 L573.25 241.01 L573.50 241.83 L573.75 242.46 L574.00 242.84 L574.25 242.97 L574.50 242.85 L574.75 242.53 L575.00 242.06 L575.75 240.33 L576.00 239.84 L576.25 239.47 L576.50 239.25 L576.75 239.20 L577.00 239.32 L577.25 239.61 L577.50 240.05 L577.75 240.61 L578.75 243.28 L579.25 244.45 L579.75 245.31 L580.25 245.87 L580.75 246.20 L581.50 246.42 L583.00 246.49 L584.00 246.43 L584.50 246.27 L585.00 245.88 L585.25 245.56 L585.50 245.11 L585.75 244.55 L586.00 243.87 L586.75 241.52 L587.00 240.85 L587.25 240.36 L587.50 240.12 L587.75 240.15 L588.00 240.44 L588.25 240.97 L588.50 241.67 L589.00 243.25 L589.25 244.01 L589.50 244.66 L589.75 245.19 L590.00 245.59 L590.25 245.85 L590.50 245.98 L590.75 245.97 L591.00 245.80 L591.25 245.45 L591.50 244.87 L591.75 244.03 L592.00 242.91 L592.25 241.54 L592.75 238.37 L593.00 236.86 L593.25 235.64 L593.50 234.89 L593.75 234.71 L594.00 235.13 L594.25 236.08 L594.50 237.44 L595.00 240.63 L595.25 242.12 L595.50 243.40 L595.75 244.41 L596.00 245.15 L596.25 245.65 L596.50 245.96 L596.75 246.10 L597.00 246.13 L597.25 246.05 L597.50 245.87 L597.75 245.60 L598.00 245.24 L598.50 244.27 L599.00 243.18 L599.25 242.70 L599.50 242.34 L599.75 242.13 L600.00 242.11 L600.25 242.28 L600.50 242.61 L601.00 243.61 L601.50 244.69 L602.00 245.55 L602.50 246.08 L603.00 246.34 L603.75 246.47 L650.50 246.50 M666.00 246.50 L692.75 246.47 L699.00 246.41 L701.75 246.30 L703.00 246.16 L703.75 245.96 L704.25 245.62 L704.50 245.32 L704.75 244.88 L705.00 244.24 L705.25 243.38 L705.50 242.27 L705.75 240.95 L706.25 238.12 L706.50 237.03 L706.75 236.51 L707.00 236.74 L707.25 237.63 L707.50 238.94 L708.00 241.76 L708.25 242.96 L708.50 243.92 L708.75 244.65 L709.00 245.17 L709.25 245.52 L709.50 245.74 L710.00 245.94 L710.25 245.92 L710.50 245.79 L710.75 245.54 L711.25 244.78 L711.50 244.45 L711.75 244.30 L712.00 244.39 L712.25 244.70 L712.75 245.56 L713.00 245.91 L713.25 246.14 L713.75 246.35 L718.75 246.46 L750.00 246.50" stroke="#9a9cec" stroke-width="1.0" fill="none" stroke-linejoin="round"/>
<path d="M117.75 245.94 L118.25 245.53 L119.50 244.10 L120.00 243.66 L120.50 243.50 L121.00 243.65 L121.50 244.08 L122.25 244.89 L122.75 245.31 L123.25 245.51 L123.75 245.42 L124.25 245.08 L125.25 244.03 L125.75 243.63 L126.25 243.50 L126.75 243.69 L127.25 244.15 L128.25 245.31 L128.75 245.77 L129.25 246.08 M250.00 246.16 L250.50 245.88 L251.25 245.23 L252.00 244.50 L252.50 244.13 L253.00 243.99 L253.50 244.12 L254.00 244.46 L254.75 245.09 L255.25 245.40 L255.75 245.51 L256.25 245.40 L257.50 244.68 L258.00 244.51 L258.50 244.54 L259.00 244.76 L260.25 245.71 L261.00 246.15 M372.75 246.13 L373.00 245.87 L373.25 245.48 L373.50 244.92 L373.75 244.16 L374.00 243.17 L374.25 241.96 L374.50 240.57 L375.00 237.56 L375.25 236.17 L375.50 235.00 L375.75 234.13 L376.00 233.59 L376.25 233.36 L376.50 233.35 L377.00 233.54 L377.25 233.57 L378.00 233.33 L378.25 233.42 L378.50 233.77 L378.75 234.44 L379.00 235.43 L379.25 236.70 L380.00 241.14 L380.25 242.47 L380.50 243.59 L380.75 244.49 L381.00 245.17 L381.25 245.66 L381.50 245.99 M470.50 245.95 L471.00 245.64 L471.50 245.16 L472.00 244.47 L472.75 243.31 L473.25 242.73 L473.50 242.58 L473.75 242.53 L474.00 242.59 L474.50 242.97 L475.25 243.78 L475.75 244.19 L476.00 244.29 L476.25 244.31 L476.50 244.24 L476.75 244.06 L477.00 243.75 L477.25 243.30 L477.50 242.70 L477.75 241.95 L478.00 241.05 L478.75 237.86 L479.00 236.87 L479.25 236.05 L479.50 235.50 L479.75 235.26 L480.00 235.36 L480.25 235.79 L480.50 236.51 L480.75 237.43 L481.50 240.62 L481.75 241.55 L482.00 242.35 L482.25 242.97 L482.50 243.42 L482.75 243.70 L483.00 243.83 L483.25 243.80 L483.50 243.65 L483.75 243.38 L484.25 242.58 L484.75 241.66 L485.00 241.27 L485.25 240.97 L485.50 240.82 L485.75 240.82 L486.00 241.00 L486.25 241.32 L486.50 241.78 L487.50 244.01 L488.00 244.89 L488.50 245.47 L489.00 245.80 L489.75 246.02 M494.25 245.99 L495.00 245.81 L495.50 245.57 L496.00 245.17 L496.50 244.51 L496.75 244.05 L497.00 243.47 L497.25 242.76 L497.50 241.92 L497.75 240.93 L498.00 239.78 L498.25 238.48 L498.50 237.05 L498.75 235.50 L499.50 230.52 L499.75 228.93 L500.00 227.48 L500.25 226.24 L500.50 225.30 L500.75 224.70 L501.00 224.50 L501.25 224.70 L501.50 225.30 L501.75 226.24 L502.00 227.48 L502.25 228.93 L502.75 232.19 L503.25 235.50 L503.50 237.05 L503.75 238.49 L504.00 239.78 L504.25 240.93 L504.50 241.92 L504.75 242.77 L505.00 243.47 L505.25 244.05 L505.50 244.52 L505.75 244.88 L506.25 245.39 L506.75 245.67 L507.25 245.78 L507.75 245.75 L508.25 245.58 L508.75 245.25 L509.50 244.51 L510.25 243.67 L510.75 243.26 L511.25 243.10 L511.75 243.23 L512.25 243.63 L513.25 244.75 L513.75 245.21 L514.25 245.47 L514.75 245.50 L515.25 245.27 L515.75 244.80 L516.25 244.09 L516.75 243.19 L517.75 241.18 L518.25 240.32 L518.50 239.99 L518.75 239.73 L519.00 239.57 L519.25 239.49 L519.50 239.51 L520.00 239.77 L521.00 240.74 L521.50 241.10 L521.75 241.18 L522.00 241.17 L522.25 241.08 L522.75 240.67 L523.75 239.33 L524.25 238.78 L524.50 238.61 L524.75 238.54 L525.00 238.57 L525.25 238.71 L525.50 238.96 L525.75 239.31 L526.25 240.24 L527.50 243.12 L528.00 244.12 L528.50 244.93 L529.00 245.52 L529.50 245.92 M566.25 245.99 L566.50 245.67 L566.75 245.20 L567.00 244.55 L567.25 243.73 L567.50 242.73 L568.25 239.34 L568.50 238.40 L568.75 237.74 L569.00 237.41 L569.25 237.41 L569.50 237.68 L570.00 238.57 L570.25 238.92 L570.50 239.06 L570.75 238.96 L571.00 238.65 L571.50 237.81 L571.75 237.53 L572.00 237.50 L572.25 237.78 L572.50 238.35 L572.75 239.15 L573.25 241.01 L573.50 241.83 L573.75 242.46 L574.00 242.84 L574.25 242.97 L574.50 242.85 L574.75 242.53 L575.00 242.06 L575.75 240.33 L576.00 239.84 L576.25 239.47 L576.50 239.25 L576.75 239.20 L577.00 239.32 L577.25 239.61 L577.50 240.05 L577.75 240.61 L578.75 243.28 L579.25 244.45 L579.75 245.31 L580.25 245.87 L580.75 246.20 M584.50 246.27 L585.00 245.88 L585.25 245.56 L585.50 245.11 L585.75 244.55 L586.00 243.87 L586.75 241.52 L587.00 240.85 L587.25 240.36 L587.50 240.12 L587.75 240.15 L588.00 240.44 L588.25 240.97 L588.50 241.67 L589.00 243.25 L589.25 244.01 L589.50 244.66 L589.75 245.19 L590.00 245.59 L590.25 245.85 L590.50 245.98 L590.75 245.97 L591.00 245.80 L591.25 245.45 L591.50 244.87 L591.75 244.03 L592.00 242.91 L592.25 241.54 L592.75 238.37 L593.00 236.86 L593.25 235.64 L593.50 234.89 L593.75 234.71 L594.00 235.13 L594.25 236.08 L594.50 237.44 L595.00 240.63 L595.25 242.12 L595.50 243.40 L595.75 244.41 L596.00 245.15 L596.25 245.65 L596.50 245.96 M597.25 246.05 L597.50 245.87 L597.75 245.60 L598.00 245.24 L598.50 244.27 L599.00 243.18 L599.25 242.70 L599.50 242.34 L599.75 242.13 L600.00 242.11 L600.25 242.28 L600.50 242.61 L601.00 243.61 L601.50 244.69 L602.00 245.55 L602.50 246.08 M703.75 245.96 L704.25 245.62 L704.50 245.32 L704.75 244.88 L705.00 244.24 L705.25 243.38 L705.50 242.27 L705.75 240.95 L706.25 238.12 L706.50 237.03 L706.75 236.51 L707.00 236.74 L707.25 237.63 L707.50 238.94 L708.00 241.76 L708.25 242.96 L708.50 243.92 L708.75 244.65 L709.00 245.17 L709.25 245.52 L709.50 245.74 L710.00 245.94 L710.25 245.92 L710.50 245.79 L710.75 245.54 L711.25 244.78 L711.50 244.45 L711.75 244.30 L712.00 244.39 L712.25 244.70 L712.75 245.56 L713.00 245.91" stroke="#3a4fc4" stroke-width="1.0" fill="none" stroke-linejoin="round" stroke-linecap="round"/>
<path d="M468.9 259.4 L468.9 28.4 L498.6 28.4 L498.6 259.4 Z" fill="none" stroke="#666" stroke-width="0.95" stroke-dasharray="2.1 2.3"/>
<path d="M513.3 259.4 L513.3 33.5 L559.4 33.5 L559.4 259.4 Z" fill="none" stroke="#666" stroke-width="0.95" stroke-dasharray="2.1 2.3"/>
<text x="169.7" y="8.6" font-family="'Liberation Sans', sans-serif" font-size="9.1" fill="#1a1a1a" stroke="#1a1a1a" stroke-width="0.28">Paracetamol</text>
<text x="347.7" y="8.3" font-family="'Liberation Sans', sans-serif" font-size="8.3" fill="#1a1a1a" stroke="#1a1a1a" stroke-width="0.3">H-C(1) CD</text>
<text x="459.5" y="8.3" font-family="'Liberation Sans', sans-serif" font-size="8.3" fill="#1a1a1a" stroke="#1a1a1a" stroke-width="0.3">H-C(3) CD</text>
<text x="523.7" y="8.3" font-family="'Liberation Sans', sans-serif" font-size="8.3" fill="#1a1a1a" stroke="#1a1a1a" stroke-width="0.3">H-C(5) CD</text>
<text x="739.1" y="85.7" font-family="'Liberation Sans', sans-serif" font-size="9.6" fill="#1a1a1a" stroke="#1a1a1a" stroke-width="0.35" text-anchor="middle">slice 1</text>
<text x="739.1" y="111.1" font-family="'Liberation Sans', sans-serif" font-size="9.6" fill="#1a1a1a" stroke="#1a1a1a" stroke-width="0.35" text-anchor="middle">slice 3</text>
<text x="739.1" y="132.6" font-family="'Liberation Sans', sans-serif" font-size="9.6" fill="#1a1a1a" stroke="#1a1a1a" stroke-width="0.35" text-anchor="middle">slice 5</text>
<text x="739.1" y="163.4" font-family="'Liberation Sans', sans-serif" font-size="9.6" fill="#1a1a1a" stroke="#1a1a1a" stroke-width="0.35" text-anchor="middle">slice 7</text>
<text x="739.1" y="190.4" font-family="'Liberation Sans', sans-serif" font-size="9.6" fill="#1a1a1a" stroke="#1a1a1a" stroke-width="0.35" text-anchor="middle">slice 9</text>
<text x="739.1" y="218.3" font-family="'Liberation Sans', sans-serif" font-size="9.6" fill="#1a1a1a" stroke="#1a1a1a" stroke-width="0.35" text-anchor="middle">slice 11</text>
<text x="739.1" y="243.5" font-family="'Liberation Sans', sans-serif" font-size="9.6" fill="#1a1a1a" stroke="#1a1a1a" stroke-width="0.35" text-anchor="middle">slice 13</text>
<text x="722.7" y="266.3" font-family="'Liberation Sans', sans-serif" font-size="9.4" fill="#1a1a1a" stroke="#1a1a1a" stroke-width="0.3" letter-spacing="0.45">[ppm]</text>
<text x="217.4" y="72.5" font-family="'Liberation Sans', sans-serif" font-size="9.8" font-weight="bold" fill="#111" stroke="#111" stroke-width="0.15">7</text>
<text x="395.5" y="72.9" font-family="'Liberation Sans', sans-serif" font-size="9.8" font-weight="bold" fill="#111" stroke="#111" stroke-width="0.15">5</text>
<text x="460.6" y="74.4" font-family="'Liberation Sans', sans-serif" font-size="9.8" font-weight="bold" fill="#111" stroke="#111" stroke-width="0.15">4</text>
<text x="218.3" y="269.0" font-family="'Liberation Sans', sans-serif" font-size="9.8" font-weight="bold" fill="#111" stroke="#111" stroke-width="0.15">7</text>
<text x="396.2" y="267.1" font-family="'Liberation Sans', sans-serif" font-size="9.8" font-weight="bold" fill="#111" stroke="#111" stroke-width="0.15">5</text>
<text x="461.6" y="268.0" font-family="'Liberation Sans', sans-serif" font-size="9.8" font-weight="bold" fill="#111" stroke="#111" stroke-width="0.15">4</text>
</svg>
</body></html>
